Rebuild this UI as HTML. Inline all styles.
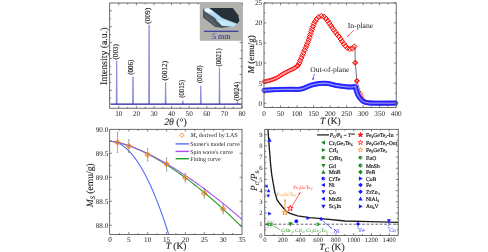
<!DOCTYPE html>
<html><head><meta charset="utf-8"><style>
html,body{margin:0;padding:0;background:#fff;}
svg{display:block;font-family:'Liberation Serif','Times New Roman',serif;text-rendering:geometricPrecision;filter:blur(0.3px);}
</style></head><body>
<svg width="488" height="252" viewBox="0 0 488 252">
<rect width="488" height="252" fill="#fff"/>
<path d="M110.53,104.2 L241.65,104.2" fill="none" stroke="#1e1e98" stroke-width="1.2"/>
<path d="M116.19,104 L116.59,61.3 L116.69,60.8 L116.79,61.3 L117.19,104" fill="#3434b8" stroke="#3434b8" stroke-width="0.7" opacity="0.62"/>
<text x="118.2" y="44" font-size="7.5" text-anchor="end" fill="#222" stroke="#222" stroke-width="0.15" transform="rotate(-90 118.2 44)" textLength="15.5" lengthAdjust="spacingAndGlyphs">(003)</text>
<path d="M132.5,104 L132.9,77.2 L133,76.7 L133.1,77.2 L133.5,104" fill="#3434b8" stroke="#3434b8" stroke-width="0.7" opacity="0.62"/>
<text x="133.4" y="59.8" font-size="7.5" text-anchor="end" fill="#222" stroke="#222" stroke-width="0.15" transform="rotate(-90 133.4 59.8)" textLength="15.0" lengthAdjust="spacingAndGlyphs">(006)</text>
<path d="M148.57,104 L148.97,25.3 L149.07,24.8 L149.17,25.3 L149.57,104" fill="#3434b8" stroke="#3434b8" stroke-width="0.7" opacity="0.62"/>
<text x="150.2" y="7.9" font-size="7.5" text-anchor="end" fill="#222" stroke="#222" stroke-width="0.15" transform="rotate(-90 150.2 7.9)" textLength="15.8" lengthAdjust="spacingAndGlyphs">(009)</text>
<path d="M165.12,104 L165.52,82.5 L165.62,82 L165.72,82.5 L166.12,104" fill="#3434b8" stroke="#3434b8" stroke-width="0.7" opacity="0.62"/>
<text x="167.1" y="60.7" font-size="7.5" text-anchor="end" fill="#222" stroke="#222" stroke-width="0.15" transform="rotate(-90 167.1 60.7)" textLength="19.8" lengthAdjust="spacingAndGlyphs">(0012)</text>
<path d="M182.36,104 L182.76,101.2 L182.86,100.7 L182.96,101.2 L183.36,104" fill="#3434b8" stroke="#3434b8" stroke-width="0.7" opacity="0.62"/>
<text x="184.3" y="79.8" font-size="7.5" text-anchor="end" fill="#222" stroke="#222" stroke-width="0.15" transform="rotate(-90 184.3 79.8)" textLength="18.0" lengthAdjust="spacingAndGlyphs">(0015)</text>
<path d="M200.32,104 L200.72,86.3 L200.82,85.8 L200.92,86.3 L201.32,104" fill="#3434b8" stroke="#3434b8" stroke-width="0.7" opacity="0.62"/>
<text x="201.7" y="65.5" font-size="7.5" text-anchor="end" fill="#222" stroke="#222" stroke-width="0.15" transform="rotate(-90 201.7 65.5)" textLength="17.6" lengthAdjust="spacingAndGlyphs">(0018)</text>
<path d="M218.97,104 L219.37,68.3 L219.47,67.8 L219.57,68.3 L219.97,104" fill="#3434b8" stroke="#3434b8" stroke-width="0.7" opacity="0.62"/>
<text x="220.8" y="48.3" font-size="7.5" text-anchor="end" fill="#222" stroke="#222" stroke-width="0.15" transform="rotate(-90 220.8 48.3)" textLength="18.2" lengthAdjust="spacingAndGlyphs">(0021)</text>
<path d="M236.92,104 L237.32,102 L237.42,101.5 L237.52,102 L237.92,104" fill="#3434b8" stroke="#3434b8" stroke-width="0.7" opacity="0.62"/>
<text x="238.8" y="82" font-size="7.5" text-anchor="end" fill="#222" stroke="#222" stroke-width="0.15" transform="rotate(-90 238.8 82)" textLength="18.7" lengthAdjust="spacingAndGlyphs">(0024)</text>
<rect x="109.7" y="3" width="132.3" height="105.2" fill="none" stroke="#3a3a3a" stroke-width="0.75"/>
<line x1="118.8" y1="108.2" x2="118.8" y2="105.8" stroke="#3a3a3a" stroke-width="0.6"/>
<line x1="118.8" y1="3" x2="118.8" y2="5.4" stroke="#3a3a3a" stroke-width="0.6"/>
<line x1="136.4" y1="108.2" x2="136.4" y2="105.8" stroke="#3a3a3a" stroke-width="0.6"/>
<line x1="136.4" y1="3" x2="136.4" y2="5.4" stroke="#3a3a3a" stroke-width="0.6"/>
<line x1="154" y1="108.2" x2="154" y2="105.8" stroke="#3a3a3a" stroke-width="0.6"/>
<line x1="154" y1="3" x2="154" y2="5.4" stroke="#3a3a3a" stroke-width="0.6"/>
<line x1="171.6" y1="108.2" x2="171.6" y2="105.8" stroke="#3a3a3a" stroke-width="0.6"/>
<line x1="171.6" y1="3" x2="171.6" y2="5.4" stroke="#3a3a3a" stroke-width="0.6"/>
<line x1="189.2" y1="108.2" x2="189.2" y2="105.8" stroke="#3a3a3a" stroke-width="0.6"/>
<line x1="189.2" y1="3" x2="189.2" y2="5.4" stroke="#3a3a3a" stroke-width="0.6"/>
<line x1="206.8" y1="108.2" x2="206.8" y2="105.8" stroke="#3a3a3a" stroke-width="0.6"/>
<line x1="206.8" y1="3" x2="206.8" y2="5.4" stroke="#3a3a3a" stroke-width="0.6"/>
<line x1="224.4" y1="108.2" x2="224.4" y2="105.8" stroke="#3a3a3a" stroke-width="0.6"/>
<line x1="224.4" y1="3" x2="224.4" y2="5.4" stroke="#3a3a3a" stroke-width="0.6"/>
<line x1="242" y1="108.2" x2="242" y2="105.8" stroke="#3a3a3a" stroke-width="0.6"/>
<line x1="242" y1="3" x2="242" y2="5.4" stroke="#3a3a3a" stroke-width="0.6"/>
<line x1="127.6" y1="108.2" x2="127.6" y2="106.8" stroke="#3a3a3a" stroke-width="0.6"/>
<line x1="127.6" y1="3" x2="127.6" y2="4.4" stroke="#3a3a3a" stroke-width="0.6"/>
<line x1="145.2" y1="108.2" x2="145.2" y2="106.8" stroke="#3a3a3a" stroke-width="0.6"/>
<line x1="145.2" y1="3" x2="145.2" y2="4.4" stroke="#3a3a3a" stroke-width="0.6"/>
<line x1="162.8" y1="108.2" x2="162.8" y2="106.8" stroke="#3a3a3a" stroke-width="0.6"/>
<line x1="162.8" y1="3" x2="162.8" y2="4.4" stroke="#3a3a3a" stroke-width="0.6"/>
<line x1="180.4" y1="108.2" x2="180.4" y2="106.8" stroke="#3a3a3a" stroke-width="0.6"/>
<line x1="180.4" y1="3" x2="180.4" y2="4.4" stroke="#3a3a3a" stroke-width="0.6"/>
<line x1="198" y1="108.2" x2="198" y2="106.8" stroke="#3a3a3a" stroke-width="0.6"/>
<line x1="198" y1="3" x2="198" y2="4.4" stroke="#3a3a3a" stroke-width="0.6"/>
<line x1="215.6" y1="108.2" x2="215.6" y2="106.8" stroke="#3a3a3a" stroke-width="0.6"/>
<line x1="215.6" y1="3" x2="215.6" y2="4.4" stroke="#3a3a3a" stroke-width="0.6"/>
<line x1="233.2" y1="108.2" x2="233.2" y2="106.8" stroke="#3a3a3a" stroke-width="0.6"/>
<line x1="233.2" y1="3" x2="233.2" y2="4.4" stroke="#3a3a3a" stroke-width="0.6"/>
<line x1="109.7" y1="98.25" x2="111.1" y2="98.25" stroke="#3a3a3a" stroke-width="0.6"/>
<line x1="242" y1="98.25" x2="240.6" y2="98.25" stroke="#3a3a3a" stroke-width="0.6"/>
<line x1="109.7" y1="82.35" x2="111.1" y2="82.35" stroke="#3a3a3a" stroke-width="0.6"/>
<line x1="242" y1="82.35" x2="240.6" y2="82.35" stroke="#3a3a3a" stroke-width="0.6"/>
<line x1="109.7" y1="66.45" x2="111.1" y2="66.45" stroke="#3a3a3a" stroke-width="0.6"/>
<line x1="242" y1="66.45" x2="240.6" y2="66.45" stroke="#3a3a3a" stroke-width="0.6"/>
<line x1="109.7" y1="50.55" x2="111.1" y2="50.55" stroke="#3a3a3a" stroke-width="0.6"/>
<line x1="242" y1="50.55" x2="240.6" y2="50.55" stroke="#3a3a3a" stroke-width="0.6"/>
<line x1="109.7" y1="34.65" x2="111.1" y2="34.65" stroke="#3a3a3a" stroke-width="0.6"/>
<line x1="242" y1="34.65" x2="240.6" y2="34.65" stroke="#3a3a3a" stroke-width="0.6"/>
<line x1="109.7" y1="18.75" x2="111.1" y2="18.75" stroke="#3a3a3a" stroke-width="0.6"/>
<line x1="242" y1="18.75" x2="240.6" y2="18.75" stroke="#3a3a3a" stroke-width="0.6"/>
<line x1="109.7" y1="90.3" x2="112.1" y2="90.3" stroke="#3a3a3a" stroke-width="0.6"/>
<line x1="242" y1="90.3" x2="239.6" y2="90.3" stroke="#3a3a3a" stroke-width="0.6"/>
<line x1="109.7" y1="74.4" x2="112.1" y2="74.4" stroke="#3a3a3a" stroke-width="0.6"/>
<line x1="242" y1="74.4" x2="239.6" y2="74.4" stroke="#3a3a3a" stroke-width="0.6"/>
<line x1="109.7" y1="58.5" x2="112.1" y2="58.5" stroke="#3a3a3a" stroke-width="0.6"/>
<line x1="242" y1="58.5" x2="239.6" y2="58.5" stroke="#3a3a3a" stroke-width="0.6"/>
<line x1="109.7" y1="42.6" x2="112.1" y2="42.6" stroke="#3a3a3a" stroke-width="0.6"/>
<line x1="242" y1="42.6" x2="239.6" y2="42.6" stroke="#3a3a3a" stroke-width="0.6"/>
<line x1="109.7" y1="26.7" x2="112.1" y2="26.7" stroke="#3a3a3a" stroke-width="0.6"/>
<line x1="242" y1="26.7" x2="239.6" y2="26.7" stroke="#3a3a3a" stroke-width="0.6"/>
<line x1="109.7" y1="10.8" x2="112.1" y2="10.8" stroke="#3a3a3a" stroke-width="0.6"/>
<line x1="242" y1="10.8" x2="239.6" y2="10.8" stroke="#3a3a3a" stroke-width="0.6"/>
<text x="118.8" y="116.4" font-size="7.2" text-anchor="middle" fill="#222">10</text>
<text x="136.4" y="116.4" font-size="7.2" text-anchor="middle" fill="#222">20</text>
<text x="154" y="116.4" font-size="7.2" text-anchor="middle" fill="#222">30</text>
<text x="171.6" y="116.4" font-size="7.2" text-anchor="middle" fill="#222">40</text>
<text x="189.2" y="116.4" font-size="7.2" text-anchor="middle" fill="#222">50</text>
<text x="206.8" y="116.4" font-size="7.2" text-anchor="middle" fill="#222">60</text>
<text x="224.4" y="116.4" font-size="7.2" text-anchor="middle" fill="#222">70</text>
<text x="242" y="116.4" font-size="7.2" text-anchor="middle" fill="#222">80</text>
<text x="175.5" y="124.5" font-size="9.8" text-anchor="middle" fill="#222" stroke="#222" stroke-width="0.12"><tspan font-style="italic">2θ</tspan> (°)</text>
<text x="106.8" y="56.3" font-size="9.8" text-anchor="middle" fill="#222" stroke="#222" stroke-width="0.12" transform="rotate(-90 106.8 56.3)">Intensity (a.u.)</text>
<g>
<rect x="199.8" y="3" width="42.2" height="37.8" fill="#b2b2ac"/>
<polygon points="205,7.9 232.8,7.9 238.3,15.2 239.4,20.8 236.7,24.7 228.9,26.9 222.2,27.5 215.6,27 203.3,17.4 203.3,9.7" fill="#253038"/>
<polygon points="203.3,11 214.4,17.6 222.2,25.8 222.2,27.5 215.6,27 203.3,17.4" fill="#4a545a"/>
<line x1="204.5" y1="15.5" x2="216.5" y2="25.5" stroke="#7d878c" stroke-width="0.6"/>
<line x1="204" y1="13" x2="214" y2="21" stroke="#6a7479" stroke-width="0.5"/>
<polygon points="204.6,8.3 209.2,8.0 222.2,18.0 237.8,24.0 236.5,25.1 233.3,26.9 222.2,26.0 214.4,17.6 204.2,11.3" fill="#b2dcf2"/>
<polygon points="204.8,8.5 208.6,8.3 213.5,12.6 207.5,12.5 204.5,10.5" fill="#eef8ff"/>
<polygon points="216,20 226,21.5 236,24.3 228,25.6 222,25.4" fill="#d2ecfa" opacity="0.8"/>
<line x1="204" y1="31.2" x2="238.5" y2="31.2" stroke="#1c1c9c" stroke-width="1.1"/>
</g>
<text x="221.3" y="39" font-size="8.0" text-anchor="middle" fill="#1c1c90">5 mm</text>
<path d="M360.51,91.15 L362.61,93.25 L360.51,95.35 L358.41,93.25 Z" fill="none" stroke="#ff1010" stroke-width="0.7"/>
<path d="M361.08,93.38 L363.18,95.48 L361.08,97.58 L358.98,95.48 Z" fill="none" stroke="#ff1010" stroke-width="0.7"/>
<path d="M361.82,95.56 L363.92,97.66 L361.82,99.76 L359.72,97.66 Z" fill="none" stroke="#ff1010" stroke-width="0.7"/>
<path d="M362.96,97.55 L365.06,99.65 L362.96,101.75 L360.86,99.65 Z" fill="none" stroke="#ff1010" stroke-width="0.7"/>
<path d="M364.51,99.23 L366.61,101.33 L364.51,103.43 L362.41,101.33 Z" fill="none" stroke="#ff1010" stroke-width="0.7"/>
<path d="M366.63,100.13 L368.73,102.23 L366.63,104.33 L364.53,102.23 Z" fill="none" stroke="#ff1010" stroke-width="0.7"/>
<path d="M368.86,100.65 L370.96,102.75 L368.86,104.85 L366.76,102.75 Z" fill="none" stroke="#ff1010" stroke-width="0.7"/>
<path d="M371.16,100.75 L373.26,102.85 L371.16,104.95 L369.06,102.85 Z" fill="none" stroke="#ff1010" stroke-width="0.7"/>
<path d="M373.46,100.8 L375.56,102.9 L373.46,105 L371.36,102.9 Z" fill="none" stroke="#ff1010" stroke-width="0.7"/>
<path d="M375.76,100.84 L377.86,102.94 L375.76,105.04 L373.66,102.94 Z" fill="none" stroke="#ff1010" stroke-width="0.7"/>
<path d="M378.06,100.86 L380.16,102.96 L378.06,105.06 L375.96,102.96 Z" fill="none" stroke="#ff1010" stroke-width="0.7"/>
<path d="M380.36,100.87 L382.46,102.97 L380.36,105.07 L378.26,102.97 Z" fill="none" stroke="#ff1010" stroke-width="0.7"/>
<path d="M382.66,100.88 L384.76,102.98 L382.66,105.08 L380.56,102.98 Z" fill="none" stroke="#ff1010" stroke-width="0.7"/>
<path d="M384.96,100.88 L387.06,102.98 L384.96,105.08 L382.86,102.98 Z" fill="none" stroke="#ff1010" stroke-width="0.7"/>
<path d="M387.26,100.88 L389.36,102.98 L387.26,105.08 L385.16,102.98 Z" fill="none" stroke="#ff1010" stroke-width="0.7"/>
<path d="M389.56,100.88 L391.66,102.98 L389.56,105.08 L387.46,102.98 Z" fill="none" stroke="#ff1010" stroke-width="0.7"/>
<path d="M391.86,100.88 L393.96,102.98 L391.86,105.08 L389.76,102.98 Z" fill="none" stroke="#ff1010" stroke-width="0.7"/>
<path d="M394.16,100.88 L396.26,102.98 L394.16,105.08 L392.06,102.98 Z" fill="none" stroke="#ff1010" stroke-width="0.7"/>
<path d="M354.99,45.61 L355.22,62.7 L356.87,80.99 L360.51,92.85" fill="none" stroke="#333" stroke-width="0.7"/>
<path d="M264,79.46 L266.25,81.71 L264,83.96 L261.75,81.71 Z" fill="none" stroke="#ff1010" stroke-width="0.8"/>
<path d="M265.09,79.27 L267.34,81.52 L265.09,83.77 L262.84,81.52 Z" fill="none" stroke="#ff1010" stroke-width="0.8"/>
<path d="M266.16,79.05 L268.41,81.3 L266.16,83.55 L263.91,81.3 Z" fill="none" stroke="#ff1010" stroke-width="0.8"/>
<path d="M267.23,78.81 L269.48,81.06 L267.23,83.31 L264.98,81.06 Z" fill="none" stroke="#ff1010" stroke-width="0.8"/>
<path d="M268.31,78.55 L270.56,80.8 L268.31,83.05 L266.06,80.8 Z" fill="none" stroke="#ff1010" stroke-width="0.8"/>
<path d="M269.37,78.27 L271.62,80.52 L269.37,82.77 L267.12,80.52 Z" fill="none" stroke="#ff1010" stroke-width="0.8"/>
<path d="M270.43,77.97 L272.68,80.22 L270.43,82.47 L268.18,80.22 Z" fill="none" stroke="#ff1010" stroke-width="0.8"/>
<path d="M271.48,77.65 L273.73,79.9 L271.48,82.15 L269.23,79.9 Z" fill="none" stroke="#ff1010" stroke-width="0.8"/>
<path d="M272.53,77.31 L274.78,79.56 L272.53,81.81 L270.28,79.56 Z" fill="none" stroke="#ff1010" stroke-width="0.8"/>
<path d="M273.57,76.94 L275.82,79.19 L273.57,81.44 L271.32,79.19 Z" fill="none" stroke="#ff1010" stroke-width="0.8"/>
<path d="M274.59,76.55 L276.84,78.8 L274.59,81.05 L272.34,78.8 Z" fill="none" stroke="#ff1010" stroke-width="0.8"/>
<path d="M275.61,76.13 L277.86,78.38 L275.61,80.63 L273.36,78.38 Z" fill="none" stroke="#ff1010" stroke-width="0.8"/>
<path d="M276.61,75.67 L278.86,77.92 L276.61,80.17 L274.36,77.92 Z" fill="none" stroke="#ff1010" stroke-width="0.8"/>
<path d="M277.57,75.13 L279.82,77.38 L277.57,79.63 L275.32,77.38 Z" fill="none" stroke="#ff1010" stroke-width="0.8"/>
<path d="M278.51,74.55 L280.76,76.8 L278.51,79.05 L276.26,76.8 Z" fill="none" stroke="#ff1010" stroke-width="0.8"/>
<path d="M279.42,73.95 L281.67,76.2 L279.42,78.45 L277.17,76.2 Z" fill="none" stroke="#ff1010" stroke-width="0.8"/>
<path d="M280.34,73.33 L282.59,75.58 L280.34,77.83 L278.09,75.58 Z" fill="none" stroke="#ff1010" stroke-width="0.8"/>
<path d="M281.25,72.73 L283.5,74.98 L281.25,77.23 L279,74.98 Z" fill="none" stroke="#ff1010" stroke-width="0.8"/>
<path d="M282.18,72.13 L284.43,74.38 L282.18,76.63 L279.93,74.38 Z" fill="none" stroke="#ff1010" stroke-width="0.8"/>
<path d="M283.13,71.58 L285.38,73.83 L283.13,76.08 L280.88,73.83 Z" fill="none" stroke="#ff1010" stroke-width="0.8"/>
<path d="M284.09,71.05 L286.34,73.3 L284.09,75.55 L281.84,73.3 Z" fill="none" stroke="#ff1010" stroke-width="0.8"/>
<path d="M285.06,70.53 L287.31,72.78 L285.06,75.03 L282.81,72.78 Z" fill="none" stroke="#ff1010" stroke-width="0.8"/>
<path d="M286.03,70.02 L288.28,72.27 L286.03,74.52 L283.78,72.27 Z" fill="none" stroke="#ff1010" stroke-width="0.8"/>
<path d="M287.01,69.51 L289.26,71.76 L287.01,74.01 L284.76,71.76 Z" fill="none" stroke="#ff1010" stroke-width="0.8"/>
<path d="M287.99,69.01 L290.24,71.26 L287.99,73.51 L285.74,71.26 Z" fill="none" stroke="#ff1010" stroke-width="0.8"/>
<path d="M288.97,68.5 L291.22,70.75 L288.97,73 L286.72,70.75 Z" fill="none" stroke="#ff1010" stroke-width="0.8"/>
<path d="M289.95,68 L292.2,70.25 L289.95,72.5 L287.7,70.25 Z" fill="none" stroke="#ff1010" stroke-width="0.8"/>
<path d="M290.93,67.53 L293.18,69.78 L290.93,72.03 L288.68,69.78 Z" fill="none" stroke="#ff1010" stroke-width="0.8"/>
<path d="M291.94,67.08 L294.19,69.33 L291.94,71.58 L289.69,69.33 Z" fill="none" stroke="#ff1010" stroke-width="0.8"/>
<path d="M292.94,66.63 L295.19,68.88 L292.94,71.13 L290.69,68.88 Z" fill="none" stroke="#ff1010" stroke-width="0.8"/>
<path d="M293.93,66.15 L296.18,68.4 L293.93,70.65 L291.68,68.4 Z" fill="none" stroke="#ff1010" stroke-width="0.8"/>
<path d="M294.89,65.61 L297.14,67.86 L294.89,70.11 L292.64,67.86 Z" fill="none" stroke="#ff1010" stroke-width="0.8"/>
<path d="M295.82,65.01 L298.07,67.26 L295.82,69.51 L293.57,67.26 Z" fill="none" stroke="#ff1010" stroke-width="0.8"/>
<path d="M296.68,64.33 L298.93,66.58 L296.68,68.83 L294.43,66.58 Z" fill="none" stroke="#ff1010" stroke-width="0.8"/>
<path d="M297.47,63.56 L299.72,65.81 L297.47,68.06 L295.22,65.81 Z" fill="none" stroke="#ff1010" stroke-width="0.8"/>
<path d="M264,81.71 L264.22,81.67 L264.45,81.64 L264.67,81.59 L264.9,81.55 L265.12,81.51 L265.34,81.47 L265.57,81.42 L265.79,81.38 L266.02,81.33 L266.24,81.28 L266.46,81.23 L266.69,81.18 L266.91,81.13 L267.14,81.08 L267.36,81.03 L267.58,80.97 L267.81,80.92 L268.03,80.86 L268.26,80.81 L268.48,80.75 L268.7,80.69 L268.93,80.63 L269.15,80.58 L269.38,80.52 L269.6,80.45 L269.82,80.39 L270.05,80.33 L270.27,80.26 L270.5,80.2 L270.72,80.13 L270.94,80.07 L271.17,80 L271.39,79.93 L271.62,79.86 L271.84,79.79 L272.07,79.71 L272.29,79.64 L272.51,79.56 L272.74,79.49 L272.96,79.41 L273.19,79.33 L273.41,79.25 L273.63,79.17 L273.86,79.08 L274.08,79 L274.31,78.91 L274.53,78.83 L274.75,78.74 L274.98,78.65 L275.2,78.55 L275.43,78.46 L275.65,78.36 L275.87,78.27 L276.1,78.17 L276.32,78.06 L276.55,77.95 L276.77,77.83 L276.99,77.71 L277.22,77.59 L277.44,77.46 L277.67,77.33 L277.89,77.19 L278.11,77.05 L278.34,76.91 L278.56,76.77 L278.79,76.62 L279.01,76.47 L279.23,76.33 L279.46,76.18 L279.68,76.03 L279.91,75.87 L280.13,75.72 L280.35,75.57 L280.58,75.42 L280.8,75.27 L281.03,75.12 L281.25,74.97 L281.47,74.83 L281.7,74.68 L281.92,74.54 L282.15,74.4 L282.37,74.27 L282.59,74.13 L282.82,74.01 L283.04,73.88 L283.27,73.75 L283.49,73.63 L283.71,73.5 L283.94,73.38 L284.16,73.26 L284.39,73.14 L284.61,73.02 L284.83,72.9 L285.06,72.78 L285.28,72.66 L285.51,72.54 L285.73,72.42 L285.95,72.31 L286.18,72.19 L286.4,72.07 L286.63,71.96 L286.85,71.84 L287.08,71.72 L287.3,71.61 L287.52,71.49 L287.75,71.38 L287.97,71.26 L288.2,71.15 L288.42,71.03 L288.64,70.92 L288.87,70.81 L289.09,70.69 L289.32,70.57 L289.54,70.46 L289.76,70.34 L289.99,70.23 L290.21,70.12 L290.44,70.01 L290.66,69.9 L290.88,69.8 L291.11,69.7 L291.33,69.6 L291.56,69.5 L291.78,69.4 L292,69.3 L292.23,69.2 L292.45,69.1 L292.68,69 L292.9,68.9 L293.12,68.79 L293.35,68.69 L293.57,68.58 L293.8,68.47 L294.02,68.35 L294.24,68.23 L294.47,68.11 L294.69,67.98 L294.92,67.85 L295.14,67.71 L295.36,67.57 L295.59,67.42 L295.81,67.26 L296.04,67.1 L296.26,66.93 L296.48,66.75 L296.71,66.56 L296.93,66.35 L297.16,66.14 L297.38,65.91" fill="none" stroke="#ffffff" stroke-width="1.2" opacity="0.5"/>
<path d="M297.71,62.95 L300.31,65.55 L297.71,68.15 L295.11,65.55 Z" fill="none" stroke="#ff0000" stroke-width="1.0"/>
<path d="M299.19,60.58 L301.79,63.18 L299.19,65.78 L296.59,63.18 Z" fill="none" stroke="#ff0000" stroke-width="1.0"/>
<path d="M300.23,57.98 L302.83,60.58 L300.23,63.18 L297.63,60.58 Z" fill="none" stroke="#ff0000" stroke-width="1.0"/>
<path d="M301.33,55.38 L303.93,57.98 L301.33,60.58 L298.73,57.98 Z" fill="none" stroke="#ff0000" stroke-width="1.0"/>
<path d="M302.42,52.81 L305.02,55.41 L302.42,58.01 L299.82,55.41 Z" fill="none" stroke="#ff0000" stroke-width="1.0"/>
<path d="M303.51,50.22 L306.11,52.82 L303.51,55.42 L300.91,52.82 Z" fill="none" stroke="#ff0000" stroke-width="1.0"/>
<path d="M304.59,47.63 L307.19,50.23 L304.59,52.83 L301.99,50.23 Z" fill="none" stroke="#ff0000" stroke-width="1.0"/>
<path d="M305.65,45.06 L308.25,47.66 L305.65,50.26 L303.05,47.66 Z" fill="none" stroke="#ff0000" stroke-width="1.0"/>
<path d="M306.73,42.47 L309.33,45.07 L306.73,47.67 L304.13,45.07 Z" fill="none" stroke="#ff0000" stroke-width="1.0"/>
<path d="M307.78,39.87 L310.38,42.47 L307.78,45.07 L305.18,42.47 Z" fill="none" stroke="#ff0000" stroke-width="1.0"/>
<path d="M308.72,37.23 L311.32,39.83 L308.72,42.43 L306.12,39.83 Z" fill="none" stroke="#ff0000" stroke-width="1.0"/>
<path d="M309.6,34.59 L312.2,37.19 L309.6,39.79 L307,37.19 Z" fill="none" stroke="#ff0000" stroke-width="1.0"/>
<path d="M310.46,31.89 L313.06,34.49 L310.46,37.09 L307.86,34.49 Z" fill="none" stroke="#ff0000" stroke-width="1.0"/>
<path d="M311.23,29.23 L313.83,31.83 L311.23,34.43 L308.63,31.83 Z" fill="none" stroke="#ff0000" stroke-width="1.0"/>
<path d="M312,26.55 L314.6,29.15 L312,31.75 L309.4,29.15 Z" fill="none" stroke="#ff0000" stroke-width="1.0"/>
<path d="M312.92,23.89 L315.52,26.49 L312.92,29.09 L310.32,26.49 Z" fill="none" stroke="#ff0000" stroke-width="1.0"/>
<path d="M313.95,21.27 L316.55,23.87 L313.95,26.47 L311.35,23.87 Z" fill="none" stroke="#ff0000" stroke-width="1.0"/>
<path d="M315.18,18.78 L317.78,21.38 L315.18,23.98 L312.58,21.38 Z" fill="none" stroke="#ff0000" stroke-width="1.0"/>
<path d="M316.7,16.42 L319.3,19.02 L316.7,21.62 L314.1,19.02 Z" fill="none" stroke="#ff0000" stroke-width="1.0"/>
<path d="M318.68,14.46 L321.28,17.06 L318.68,19.66 L316.08,17.06 Z" fill="none" stroke="#ff0000" stroke-width="1.0"/>
<path d="M321.23,13.38 L323.83,15.98 L321.23,18.58 L318.63,15.98 Z" fill="none" stroke="#ff0000" stroke-width="1.0"/>
<path d="M323.82,14.05 L326.42,16.65 L323.82,19.25 L321.22,16.65 Z" fill="none" stroke="#ff0000" stroke-width="1.0"/>
<path d="M325.88,15.94 L328.48,18.54 L325.88,21.14 L323.28,18.54 Z" fill="none" stroke="#ff0000" stroke-width="1.0"/>
<path d="M327.59,18.15 L330.19,20.75 L327.59,23.35 L324.99,20.75 Z" fill="none" stroke="#ff0000" stroke-width="1.0"/>
<path d="M329.19,20.47 L331.79,23.07 L329.19,25.67 L326.59,23.07 Z" fill="none" stroke="#ff0000" stroke-width="1.0"/>
<path d="M330.7,22.82 L333.3,25.42 L330.7,28.02 L328.1,25.42 Z" fill="none" stroke="#ff0000" stroke-width="1.0"/>
<path d="M332.24,25.14 L334.84,27.74 L332.24,30.34 L329.64,27.74 Z" fill="none" stroke="#ff0000" stroke-width="1.0"/>
<path d="M333.83,27.44 L336.43,30.04 L333.83,32.64 L331.23,30.04 Z" fill="none" stroke="#ff0000" stroke-width="1.0"/>
<path d="M335.52,29.69 L338.12,32.29 L335.52,34.89 L332.92,32.29 Z" fill="none" stroke="#ff0000" stroke-width="1.0"/>
<path d="M337.24,31.9 L339.84,34.5 L337.24,37.1 L334.64,34.5 Z" fill="none" stroke="#ff0000" stroke-width="1.0"/>
<path d="M338.97,34.08 L341.57,36.68 L338.97,39.28 L336.37,36.68 Z" fill="none" stroke="#ff0000" stroke-width="1.0"/>
<path d="M340.59,36.39 L343.19,38.99 L340.59,41.59 L337.99,38.99 Z" fill="none" stroke="#ff0000" stroke-width="1.0"/>
<path d="M342.07,38.77 L344.67,41.37 L342.07,43.97 L339.47,41.37 Z" fill="none" stroke="#ff0000" stroke-width="1.0"/>
<path d="M343.63,41.08 L346.23,43.68 L343.63,46.28 L341.03,43.68 Z" fill="none" stroke="#ff0000" stroke-width="1.0"/>
<path d="M345.32,43.3 L347.92,45.9 L345.32,48.5 L342.72,45.9 Z" fill="none" stroke="#ff0000" stroke-width="1.0"/>
<path d="M347.32,45.26 L349.92,47.86 L347.32,50.46 L344.72,47.86 Z" fill="none" stroke="#ff0000" stroke-width="1.0"/>
<path d="M349.87,46.35 L352.47,48.95 L349.87,51.55 L347.27,48.95 Z" fill="none" stroke="#ff0000" stroke-width="1.0"/>
<path d="M352.49,45.9 L355.09,48.5 L352.49,51.1 L349.89,48.5 Z" fill="none" stroke="#ff0000" stroke-width="1.0"/>
<path d="M354.43,43.88 L357.03,46.48 L354.43,49.08 L351.83,46.48 Z" fill="none" stroke="#ff0000" stroke-width="1.0"/>
<path d="M355.22,60.5 L357.42,62.7 L355.22,64.9 L353.02,62.7 Z" fill="none" stroke="#ff1010" stroke-width="1.2"/>
<path d="M356.87,78.79 L359.07,80.99 L356.87,83.19 L354.67,80.99 Z" fill="none" stroke="#ff1010" stroke-width="1.2"/>
<circle cx="264" cy="90.32" r="2.1" fill="none" stroke="#1a1aff" stroke-width="0.8"/>
<circle cx="265.12" cy="90.23" r="2.1" fill="none" stroke="#1a1aff" stroke-width="0.8"/>
<circle cx="266.21" cy="90.16" r="2.1" fill="none" stroke="#1a1aff" stroke-width="0.8"/>
<circle cx="267.3" cy="90.08" r="2.1" fill="none" stroke="#1a1aff" stroke-width="0.8"/>
<circle cx="268.39" cy="90.01" r="2.1" fill="none" stroke="#1a1aff" stroke-width="0.8"/>
<circle cx="269.51" cy="89.94" r="2.1" fill="none" stroke="#1a1aff" stroke-width="0.8"/>
<circle cx="270.6" cy="89.88" r="2.1" fill="none" stroke="#1a1aff" stroke-width="0.8"/>
<circle cx="271.69" cy="89.82" r="2.1" fill="none" stroke="#1a1aff" stroke-width="0.8"/>
<circle cx="272.78" cy="89.76" r="2.1" fill="none" stroke="#1a1aff" stroke-width="0.8"/>
<circle cx="273.91" cy="89.71" r="2.1" fill="none" stroke="#1a1aff" stroke-width="0.8"/>
<circle cx="274.99" cy="89.66" r="2.1" fill="none" stroke="#1a1aff" stroke-width="0.8"/>
<circle cx="276.08" cy="89.63" r="2.1" fill="none" stroke="#1a1aff" stroke-width="0.8"/>
<circle cx="277.21" cy="89.59" r="2.1" fill="none" stroke="#1a1aff" stroke-width="0.8"/>
<circle cx="278.3" cy="89.55" r="2.1" fill="none" stroke="#1a1aff" stroke-width="0.8"/>
<circle cx="279.39" cy="89.52" r="2.1" fill="none" stroke="#1a1aff" stroke-width="0.8"/>
<circle cx="280.51" cy="89.48" r="2.1" fill="none" stroke="#1a1aff" stroke-width="0.8"/>
<circle cx="281.6" cy="89.45" r="2.1" fill="none" stroke="#1a1aff" stroke-width="0.8"/>
<circle cx="282.69" cy="89.42" r="2.1" fill="none" stroke="#1a1aff" stroke-width="0.8"/>
<circle cx="283.78" cy="89.39" r="2.1" fill="none" stroke="#1a1aff" stroke-width="0.8"/>
<circle cx="284.9" cy="89.37" r="2.1" fill="none" stroke="#1a1aff" stroke-width="0.8"/>
<circle cx="285.99" cy="89.35" r="2.1" fill="none" stroke="#1a1aff" stroke-width="0.8"/>
<circle cx="287.08" cy="89.33" r="2.1" fill="none" stroke="#1a1aff" stroke-width="0.8"/>
<circle cx="288.2" cy="89.32" r="2.1" fill="none" stroke="#1a1aff" stroke-width="0.8"/>
<circle cx="289.29" cy="89.31" r="2.1" fill="none" stroke="#1a1aff" stroke-width="0.8"/>
<circle cx="290.38" cy="89.31" r="2.1" fill="none" stroke="#1a1aff" stroke-width="0.8"/>
<circle cx="291.5" cy="89.32" r="2.1" fill="none" stroke="#1a1aff" stroke-width="0.8"/>
<circle cx="292.59" cy="89.35" r="2.1" fill="none" stroke="#1a1aff" stroke-width="0.8"/>
<circle cx="293.68" cy="89.37" r="2.1" fill="none" stroke="#1a1aff" stroke-width="0.8"/>
<circle cx="294.8" cy="89.4" r="2.1" fill="none" stroke="#1a1aff" stroke-width="0.8"/>
<circle cx="295.89" cy="89.42" r="2.1" fill="none" stroke="#1a1aff" stroke-width="0.8"/>
<circle cx="296.98" cy="89.43" r="2.1" fill="none" stroke="#1a1aff" stroke-width="0.8"/>
<circle cx="298.07" cy="89.4" r="2.1" fill="none" stroke="#1a1aff" stroke-width="0.8"/>
<circle cx="299.2" cy="89.29" r="2.1" fill="none" stroke="#1a1aff" stroke-width="0.8"/>
<circle cx="300.29" cy="89.13" r="2.1" fill="none" stroke="#1a1aff" stroke-width="0.8"/>
<circle cx="301.34" cy="88.95" r="2.1" fill="none" stroke="#1a1aff" stroke-width="0.8"/>
<circle cx="302.43" cy="88.73" r="2.1" fill="none" stroke="#1a1aff" stroke-width="0.8"/>
<circle cx="303.49" cy="88.39" r="2.1" fill="none" stroke="#1a1aff" stroke-width="0.8"/>
<circle cx="304.51" cy="87.96" r="2.1" fill="none" stroke="#1a1aff" stroke-width="0.8"/>
<circle cx="305.5" cy="87.5" r="2.1" fill="none" stroke="#1a1aff" stroke-width="0.8"/>
<circle cx="306.49" cy="87.08" r="2.1" fill="none" stroke="#1a1aff" stroke-width="0.8"/>
<circle cx="307.52" cy="86.66" r="2.1" fill="none" stroke="#1a1aff" stroke-width="0.8"/>
<circle cx="308.54" cy="86.23" r="2.1" fill="none" stroke="#1a1aff" stroke-width="0.8"/>
<circle cx="309.56" cy="85.81" r="2.1" fill="none" stroke="#1a1aff" stroke-width="0.8"/>
<circle cx="310.59" cy="85.43" r="2.1" fill="none" stroke="#1a1aff" stroke-width="0.8"/>
<circle cx="311.64" cy="85.1" r="2.1" fill="none" stroke="#1a1aff" stroke-width="0.8"/>
<circle cx="312.7" cy="84.8" r="2.1" fill="none" stroke="#1a1aff" stroke-width="0.8"/>
<circle cx="313.76" cy="84.52" r="2.1" fill="none" stroke="#1a1aff" stroke-width="0.8"/>
<circle cx="314.81" cy="84.27" r="2.1" fill="none" stroke="#1a1aff" stroke-width="0.8"/>
<circle cx="315.9" cy="84.06" r="2.1" fill="none" stroke="#1a1aff" stroke-width="0.8"/>
<circle cx="316.99" cy="83.88" r="2.1" fill="none" stroke="#1a1aff" stroke-width="0.8"/>
<circle cx="318.08" cy="83.7" r="2.1" fill="none" stroke="#1a1aff" stroke-width="0.8"/>
<circle cx="319.17" cy="83.55" r="2.1" fill="none" stroke="#1a1aff" stroke-width="0.8"/>
<circle cx="320.26" cy="83.44" r="2.1" fill="none" stroke="#1a1aff" stroke-width="0.8"/>
<circle cx="321.35" cy="83.39" r="2.1" fill="none" stroke="#1a1aff" stroke-width="0.8"/>
<circle cx="322.47" cy="83.36" r="2.1" fill="none" stroke="#1a1aff" stroke-width="0.8"/>
<circle cx="323.56" cy="83.34" r="2.1" fill="none" stroke="#1a1aff" stroke-width="0.8"/>
<circle cx="324.65" cy="83.33" r="2.1" fill="none" stroke="#1a1aff" stroke-width="0.8"/>
<circle cx="325.77" cy="83.32" r="2.1" fill="none" stroke="#1a1aff" stroke-width="0.8"/>
<circle cx="326.86" cy="83.38" r="2.1" fill="none" stroke="#1a1aff" stroke-width="0.8"/>
<circle cx="327.95" cy="83.54" r="2.1" fill="none" stroke="#1a1aff" stroke-width="0.8"/>
<circle cx="329.04" cy="83.73" r="2.1" fill="none" stroke="#1a1aff" stroke-width="0.8"/>
<circle cx="330.1" cy="83.93" r="2.1" fill="none" stroke="#1a1aff" stroke-width="0.8"/>
<circle cx="331.19" cy="84.2" r="2.1" fill="none" stroke="#1a1aff" stroke-width="0.8"/>
<circle cx="332.25" cy="84.49" r="2.1" fill="none" stroke="#1a1aff" stroke-width="0.8"/>
<circle cx="333.3" cy="84.79" r="2.1" fill="none" stroke="#1a1aff" stroke-width="0.8"/>
<circle cx="334.36" cy="85.06" r="2.1" fill="none" stroke="#1a1aff" stroke-width="0.8"/>
<circle cx="335.45" cy="85.28" r="2.1" fill="none" stroke="#1a1aff" stroke-width="0.8"/>
<circle cx="336.54" cy="85.48" r="2.1" fill="none" stroke="#1a1aff" stroke-width="0.8"/>
<circle cx="337.59" cy="85.65" r="2.1" fill="none" stroke="#1a1aff" stroke-width="0.8"/>
<circle cx="338.68" cy="85.81" r="2.1" fill="none" stroke="#1a1aff" stroke-width="0.8"/>
<circle cx="339.77" cy="85.97" r="2.1" fill="none" stroke="#1a1aff" stroke-width="0.8"/>
<circle cx="340.86" cy="86.11" r="2.1" fill="none" stroke="#1a1aff" stroke-width="0.8"/>
<circle cx="341.95" cy="86.25" r="2.1" fill="none" stroke="#1a1aff" stroke-width="0.8"/>
<circle cx="343.08" cy="86.39" r="2.1" fill="none" stroke="#1a1aff" stroke-width="0.8"/>
<circle cx="344.17" cy="86.54" r="2.1" fill="none" stroke="#1a1aff" stroke-width="0.8"/>
<circle cx="345.25" cy="86.68" r="2.1" fill="none" stroke="#1a1aff" stroke-width="0.8"/>
<circle cx="346.34" cy="86.82" r="2.1" fill="none" stroke="#1a1aff" stroke-width="0.8"/>
<circle cx="347.43" cy="86.93" r="2.1" fill="none" stroke="#1a1aff" stroke-width="0.8"/>
<circle cx="348.52" cy="87" r="2.1" fill="none" stroke="#1a1aff" stroke-width="0.8"/>
<circle cx="349.61" cy="87.02" r="2.1" fill="none" stroke="#1a1aff" stroke-width="0.8"/>
<circle cx="350.74" cy="87.01" r="2.1" fill="none" stroke="#1a1aff" stroke-width="0.8"/>
<circle cx="351.83" cy="86.99" r="2.1" fill="none" stroke="#1a1aff" stroke-width="0.8"/>
<circle cx="352.91" cy="86.95" r="2.1" fill="none" stroke="#1a1aff" stroke-width="0.8"/>
<circle cx="354" cy="86.88" r="2.1" fill="none" stroke="#1a1aff" stroke-width="0.8"/>
<circle cx="354.93" cy="86.25" r="2.1" fill="none" stroke="#1a1aff" stroke-width="0.8"/>
<circle cx="355.49" cy="87.04" r="2.1" fill="none" stroke="#1a1aff" stroke-width="0.8"/>
<circle cx="355.75" cy="88.16" r="2.1" fill="none" stroke="#1a1aff" stroke-width="0.8"/>
<circle cx="355.99" cy="89.24" r="2.1" fill="none" stroke="#1a1aff" stroke-width="0.8"/>
<circle cx="356.25" cy="90.32" r="2.1" fill="none" stroke="#1a1aff" stroke-width="0.8"/>
<circle cx="356.58" cy="91.33" r="2.1" fill="none" stroke="#1a1aff" stroke-width="0.8"/>
<circle cx="356.94" cy="92.4" r="2.1" fill="none" stroke="#1a1aff" stroke-width="0.8"/>
<circle cx="357.31" cy="93.4" r="2.1" fill="none" stroke="#1a1aff" stroke-width="0.8"/>
<circle cx="357.7" cy="94.39" r="2.1" fill="none" stroke="#1a1aff" stroke-width="0.8"/>
<circle cx="358.2" cy="95.42" r="2.1" fill="none" stroke="#1a1aff" stroke-width="0.8"/>
<circle cx="358.73" cy="96.36" r="2.1" fill="none" stroke="#1a1aff" stroke-width="0.8"/>
<circle cx="359.32" cy="97.28" r="2.1" fill="none" stroke="#1a1aff" stroke-width="0.8"/>
<circle cx="359.95" cy="98.14" r="2.1" fill="none" stroke="#1a1aff" stroke-width="0.8"/>
<circle cx="360.67" cy="98.98" r="2.1" fill="none" stroke="#1a1aff" stroke-width="0.8"/>
<circle cx="361.43" cy="99.81" r="2.1" fill="none" stroke="#1a1aff" stroke-width="0.8"/>
<circle cx="362.19" cy="100.57" r="2.1" fill="none" stroke="#1a1aff" stroke-width="0.8"/>
<circle cx="363.05" cy="101.28" r="2.1" fill="none" stroke="#1a1aff" stroke-width="0.8"/>
<circle cx="364.01" cy="101.81" r="2.1" fill="none" stroke="#1a1aff" stroke-width="0.8"/>
<circle cx="365.03" cy="102.16" r="2.1" fill="none" stroke="#1a1aff" stroke-width="0.8"/>
<circle cx="366.09" cy="102.46" r="2.1" fill="none" stroke="#1a1aff" stroke-width="0.8"/>
<circle cx="367.18" cy="102.69" r="2.1" fill="none" stroke="#1a1aff" stroke-width="0.8"/>
<circle cx="368.27" cy="102.85" r="2.1" fill="none" stroke="#1a1aff" stroke-width="0.8"/>
<circle cx="369.36" cy="102.94" r="2.1" fill="none" stroke="#1a1aff" stroke-width="0.8"/>
<circle cx="370.45" cy="103.02" r="2.1" fill="none" stroke="#1a1aff" stroke-width="0.8"/>
<circle cx="371.54" cy="103.08" r="2.1" fill="none" stroke="#1a1aff" stroke-width="0.8"/>
<circle cx="372.66" cy="103.13" r="2.1" fill="none" stroke="#1a1aff" stroke-width="0.8"/>
<circle cx="373.75" cy="103.16" r="2.1" fill="none" stroke="#1a1aff" stroke-width="0.8"/>
<circle cx="374.84" cy="103.18" r="2.1" fill="none" stroke="#1a1aff" stroke-width="0.8"/>
<circle cx="375.96" cy="103.18" r="2.1" fill="none" stroke="#1a1aff" stroke-width="0.8"/>
<circle cx="377.05" cy="103.18" r="2.1" fill="none" stroke="#1a1aff" stroke-width="0.8"/>
<circle cx="378.14" cy="103.18" r="2.1" fill="none" stroke="#1a1aff" stroke-width="0.8"/>
<circle cx="379.26" cy="103.18" r="2.1" fill="none" stroke="#1a1aff" stroke-width="0.8"/>
<circle cx="380.35" cy="103.18" r="2.1" fill="none" stroke="#1a1aff" stroke-width="0.8"/>
<circle cx="381.44" cy="103.18" r="2.1" fill="none" stroke="#1a1aff" stroke-width="0.8"/>
<circle cx="382.53" cy="103.18" r="2.1" fill="none" stroke="#1a1aff" stroke-width="0.8"/>
<circle cx="383.65" cy="103.17" r="2.1" fill="none" stroke="#1a1aff" stroke-width="0.8"/>
<circle cx="384.74" cy="103.17" r="2.1" fill="none" stroke="#1a1aff" stroke-width="0.8"/>
<circle cx="385.83" cy="103.17" r="2.1" fill="none" stroke="#1a1aff" stroke-width="0.8"/>
<circle cx="386.96" cy="103.17" r="2.1" fill="none" stroke="#1a1aff" stroke-width="0.8"/>
<circle cx="388.04" cy="103.16" r="2.1" fill="none" stroke="#1a1aff" stroke-width="0.8"/>
<circle cx="389.13" cy="103.16" r="2.1" fill="none" stroke="#1a1aff" stroke-width="0.8"/>
<circle cx="390.26" cy="103.15" r="2.1" fill="none" stroke="#1a1aff" stroke-width="0.8"/>
<circle cx="391.35" cy="103.14" r="2.1" fill="none" stroke="#1a1aff" stroke-width="0.8"/>
<circle cx="392.44" cy="103.13" r="2.1" fill="none" stroke="#1a1aff" stroke-width="0.8"/>
<circle cx="393.56" cy="103.13" r="2.1" fill="none" stroke="#1a1aff" stroke-width="0.8"/>
<circle cx="394.65" cy="103.12" r="2.1" fill="none" stroke="#1a1aff" stroke-width="0.8"/>
<circle cx="395.74" cy="103.1" r="2.1" fill="none" stroke="#1a1aff" stroke-width="0.8"/>
<path d="M264,90.32 L264.26,90.3 L264.53,90.28 L264.79,90.26 L265.06,90.24 L265.32,90.22 L265.59,90.2 L265.85,90.18 L266.12,90.16 L266.38,90.15 L266.65,90.13 L266.91,90.11 L267.18,90.09 L267.44,90.07 L267.7,90.06 L267.97,90.04 L268.23,90.02 L268.5,90 L268.76,89.99 L269.03,89.97 L269.29,89.95 L269.56,89.94 L269.82,89.92 L270.09,89.91 L270.35,89.89 L270.61,89.87 L270.88,89.86 L271.14,89.84 L271.41,89.83 L271.67,89.82 L271.94,89.8 L272.2,89.79 L272.47,89.78 L272.73,89.76 L273,89.75 L273.26,89.74 L273.53,89.72 L273.79,89.71 L274.05,89.7 L274.32,89.69 L274.58,89.68 L274.85,89.67 L275.11,89.66 L275.38,89.65 L275.64,89.64 L275.91,89.63 L276.17,89.62 L276.44,89.61 L276.7,89.61 L276.97,89.6 L277.23,89.59 L277.49,89.58 L277.76,89.57 L278.02,89.56 L278.29,89.55 L278.55,89.54 L278.82,89.54 L279.08,89.53 L279.35,89.52 L279.61,89.51 L279.88,89.5 L280.14,89.49 L280.41,89.49 L280.67,89.48 L280.93,89.47 L281.2,89.46 L281.46,89.45 L281.73,89.45 L281.99,89.44 L282.26,89.43 L282.52,89.43 L282.79,89.42 L283.05,89.41 L283.32,89.4 L283.58,89.4 L283.84,89.39 L284.11,89.39 L284.37,89.38 L284.64,89.37 L284.9,89.37 L285.17,89.36 L285.43,89.36 L285.7,89.35 L285.96,89.35 L286.23,89.34 L286.49,89.34 L286.76,89.34 L287.02,89.33 L287.28,89.33 L287.55,89.33 L287.81,89.32 L288.08,89.32 L288.34,89.32 L288.61,89.32 L288.87,89.31 L289.14,89.31 L289.4,89.31 L289.67,89.31 L289.93,89.31 L290.2,89.31 L290.46,89.31 L290.72,89.31 L290.99,89.32 L291.25,89.32 L291.52,89.32 L291.78,89.33 L292.05,89.33 L292.31,89.34 L292.58,89.35 L292.84,89.35 L293.11,89.36 L293.37,89.37 L293.64,89.37 L293.9,89.38 L294.16,89.39 L294.43,89.39 L294.69,89.4 L294.96,89.4 L295.22,89.41 L295.49,89.42 L295.75,89.42 L296.02,89.42 L296.28,89.43 L296.55,89.43 L296.81,89.43 L297.07,89.43 L297.34,89.43 L297.6,89.42 L297.87,89.41 L298.13,89.39 L298.4,89.37 L298.66,89.35 L298.93,89.32 L299.19,89.29 L299.46,89.25 L299.72,89.22 L299.99,89.18 L300.25,89.14 L300.51,89.1 L300.78,89.05 L301.04,89 L301.31,88.96 L301.57,88.91 L301.84,88.86 L302.1,88.81 L302.37,88.75 L302.63,88.68 L302.9,88.6 L303.16,88.51 L303.43,88.41 L303.69,88.31 L303.95,88.2 L304.22,88.09 L304.48,87.97 L304.75,87.85 L305.01,87.73 L305.28,87.61 L305.54,87.49 L305.81,87.37 L306.07,87.25 L306.34,87.14 L306.6,87.03 L306.86,86.93 L307.13,86.82 L307.39,86.71 L307.66,86.6 L307.92,86.49 L308.19,86.38 L308.45,86.27 L308.72,86.16 L308.98,86.05 L309.25,85.94 L309.51,85.83 L309.78,85.73 L310.04,85.63 L310.3,85.53 L310.57,85.44 L310.83,85.35 L311.1,85.26 L311.36,85.18 L311.63,85.1 L311.89,85.02 L312.16,84.95 L312.42,84.87 L312.69,84.8 L312.95,84.73 L313.22,84.66 L313.48,84.59 L313.74,84.52 L314.01,84.46 L314.27,84.39 L314.54,84.33 L314.8,84.28 L315.07,84.22 L315.33,84.17 L315.6,84.11 L315.86,84.07 L316.13,84.02 L316.39,83.98 L316.66,83.93 L316.92,83.89 L317.18,83.84 L317.45,83.8 L317.71,83.76 L317.98,83.72 L318.24,83.68 L318.51,83.64 L318.77,83.6 L319.04,83.56 L319.3,83.53 L319.57,83.5 L319.83,83.48 L320.09,83.45 L320.36,83.43 L320.62,83.42 L320.89,83.41 L321.15,83.4 L321.42,83.39 L321.68,83.38 L321.95,83.38 L322.21,83.37 L322.48,83.36 L322.74,83.36 L323.01,83.35 L323.27,83.35 L323.53,83.34 L323.8,83.34 L324.06,83.33 L324.33,83.33 L324.59,83.33 L324.86,83.32 L325.12,83.32 L325.39,83.32 L325.65,83.32 L325.92,83.32 L326.18,83.33 L326.45,83.34 L326.71,83.37 L326.97,83.4 L327.24,83.43 L327.5,83.47 L327.77,83.51 L328.03,83.55 L328.3,83.6 L328.56,83.65 L328.83,83.69 L329.09,83.74 L329.36,83.79 L329.62,83.84 L329.89,83.89 L330.15,83.94 L330.41,84 L330.68,84.07 L330.94,84.13 L331.21,84.2 L331.47,84.27 L331.74,84.35 L332,84.42 L332.27,84.5 L332.53,84.57 L332.8,84.65 L333.06,84.72 L333.32,84.8 L333.59,84.87 L333.85,84.94 L334.12,85 L334.38,85.07 L334.65,85.13 L334.91,85.18 L335.18,85.23 L335.44,85.28 L335.71,85.33 L335.97,85.38 L336.24,85.42 L336.5,85.47 L336.76,85.51 L337.03,85.56 L337.29,85.6 L337.56,85.64 L337.82,85.68 L338.09,85.72 L338.35,85.76 L338.62,85.8 L338.88,85.84 L339.15,85.88 L339.41,85.92 L339.68,85.95 L339.94,85.99 L340.2,86.03 L340.47,86.06 L340.73,86.1 L341,86.13 L341.26,86.16 L341.53,86.2 L341.79,86.23 L342.06,86.26 L342.32,86.29 L342.59,86.33 L342.85,86.36 L343.12,86.4 L343.38,86.43 L343.64,86.47 L343.91,86.5 L344.17,86.54 L344.44,86.58 L344.7,86.61 L344.97,86.65 L345.23,86.68 L345.5,86.72 L345.76,86.75 L346.03,86.78 L346.29,86.81 L346.55,86.84 L346.82,86.87 L347.08,86.9 L347.35,86.92 L347.61,86.94 L347.88,86.96 L348.14,86.98 L348.41,86.99 L348.67,87 L348.94,87.01 L349.2,87.02 L349.47,87.02 L349.73,87.02 L349.99,87.02 L350.26,87.02 L350.52,87.01 L350.79,87.01 L351.05,87.01 L351.32,87 L351.58,87 L351.85,86.99 L352.11,86.98 L352.38,86.97 L352.64,86.96 L352.91,86.95 L353.17,86.94 L353.43,86.93 L353.7,86.91 L353.96,86.89 L354.23,86.76 L354.49,86.55 L354.76,86.34 L355.02,86.22 L355.29,86.44 L355.55,87.28 L355.82,88.45 L356.08,89.66 L356.34,90.63 L356.61,91.42 L356.87,92.2 L357.14,92.95 L357.4,93.65 L357.67,94.31 L357.93,94.9 L358.2,95.42 L358.46,95.9 L358.73,96.36 L358.99,96.79 L359.26,97.19 L359.52,97.57 L359.78,97.93 L360.05,98.26 L360.31,98.58 L360.58,98.88 L360.84,99.17 L361.11,99.46 L361.37,99.74 L361.64,100.02 L361.9,100.29 L362.17,100.54 L362.43,100.78 L362.7,101.01 L362.96,101.22 L363.22,101.4 L363.49,101.57 L363.75,101.7 L364.02,101.82 L364.28,101.91 L364.55,102 L364.81,102.09 L365.08,102.18 L365.34,102.26 L365.61,102.33 L365.87,102.4 L366.14,102.47 L366.4,102.53 L366.66,102.59 L366.93,102.65 L367.19,102.7 L367.46,102.74 L367.72,102.78 L367.99,102.82 L368.25,102.85 L368.52,102.88 L368.78,102.9 L369.05,102.92 L369.31,102.94 L369.57,102.96 L369.84,102.98 L370.1,102.99 L370.37,103.01 L370.63,103.03 L370.9,103.05 L371.16,103.06 L371.43,103.07 L371.69,103.09 L371.96,103.1 L372.22,103.11 L372.49,103.12 L372.75,103.14 L373.01,103.14 L373.28,103.15 L373.54,103.16 L373.81,103.17 L374.07,103.17 L374.34,103.17 L374.6,103.18 L374.87,103.18 L375.13,103.18 L375.4,103.18 L375.66,103.18 L375.93,103.18 L376.19,103.18 L376.45,103.18 L376.72,103.18 L376.98,103.18 L377.25,103.18 L377.51,103.18 L377.78,103.18 L378.04,103.18 L378.31,103.18 L378.57,103.18 L378.84,103.18 L379.1,103.18 L379.37,103.18 L379.63,103.18 L379.89,103.18 L380.16,103.18 L380.42,103.18 L380.69,103.18 L380.95,103.18 L381.22,103.18 L381.48,103.18 L381.75,103.18 L382.01,103.18 L382.28,103.18 L382.54,103.18 L382.8,103.18 L383.07,103.18 L383.33,103.17 L383.6,103.17 L383.86,103.17 L384.13,103.17 L384.39,103.17 L384.66,103.17 L384.92,103.17 L385.19,103.17 L385.45,103.17 L385.72,103.17 L385.98,103.17 L386.24,103.17 L386.51,103.17 L386.77,103.17 L387.04,103.16 L387.3,103.16 L387.57,103.16 L387.83,103.16 L388.1,103.16 L388.36,103.16 L388.63,103.16 L388.89,103.16 L389.16,103.16 L389.42,103.15 L389.68,103.15 L389.95,103.15 L390.21,103.15 L390.48,103.15 L390.74,103.15 L391.01,103.14 L391.27,103.14 L391.54,103.14 L391.8,103.14 L392.07,103.14 L392.33,103.14 L392.59,103.13 L392.86,103.13 L393.12,103.13 L393.39,103.13 L393.65,103.12 L393.92,103.12 L394.18,103.12 L394.45,103.12 L394.71,103.11 L394.98,103.11 L395.24,103.11 L395.51,103.11 L395.77,103.1 L396.03,103.1" fill="none" stroke="#ffffff" stroke-width="1.2" opacity="0.45"/>
<rect x="264" y="3" width="132.2" height="104.6" fill="none" stroke="#3a3a3a" stroke-width="0.75"/>
<line x1="280.52" y1="107.6" x2="280.52" y2="105.2" stroke="#3a3a3a" stroke-width="0.6"/>
<line x1="280.52" y1="3" x2="280.52" y2="5.4" stroke="#3a3a3a" stroke-width="0.6"/>
<line x1="297.05" y1="107.6" x2="297.05" y2="105.2" stroke="#3a3a3a" stroke-width="0.6"/>
<line x1="297.05" y1="3" x2="297.05" y2="5.4" stroke="#3a3a3a" stroke-width="0.6"/>
<line x1="313.57" y1="107.6" x2="313.57" y2="105.2" stroke="#3a3a3a" stroke-width="0.6"/>
<line x1="313.57" y1="3" x2="313.57" y2="5.4" stroke="#3a3a3a" stroke-width="0.6"/>
<line x1="330.1" y1="107.6" x2="330.1" y2="105.2" stroke="#3a3a3a" stroke-width="0.6"/>
<line x1="330.1" y1="3" x2="330.1" y2="5.4" stroke="#3a3a3a" stroke-width="0.6"/>
<line x1="346.62" y1="107.6" x2="346.62" y2="105.2" stroke="#3a3a3a" stroke-width="0.6"/>
<line x1="346.62" y1="3" x2="346.62" y2="5.4" stroke="#3a3a3a" stroke-width="0.6"/>
<line x1="363.15" y1="107.6" x2="363.15" y2="105.2" stroke="#3a3a3a" stroke-width="0.6"/>
<line x1="363.15" y1="3" x2="363.15" y2="5.4" stroke="#3a3a3a" stroke-width="0.6"/>
<line x1="379.68" y1="107.6" x2="379.68" y2="105.2" stroke="#3a3a3a" stroke-width="0.6"/>
<line x1="379.68" y1="3" x2="379.68" y2="5.4" stroke="#3a3a3a" stroke-width="0.6"/>
<line x1="272.26" y1="107.6" x2="272.26" y2="106.2" stroke="#3a3a3a" stroke-width="0.6"/>
<line x1="272.26" y1="3" x2="272.26" y2="4.4" stroke="#3a3a3a" stroke-width="0.6"/>
<line x1="288.79" y1="107.6" x2="288.79" y2="106.2" stroke="#3a3a3a" stroke-width="0.6"/>
<line x1="288.79" y1="3" x2="288.79" y2="4.4" stroke="#3a3a3a" stroke-width="0.6"/>
<line x1="305.31" y1="107.6" x2="305.31" y2="106.2" stroke="#3a3a3a" stroke-width="0.6"/>
<line x1="305.31" y1="3" x2="305.31" y2="4.4" stroke="#3a3a3a" stroke-width="0.6"/>
<line x1="321.84" y1="107.6" x2="321.84" y2="106.2" stroke="#3a3a3a" stroke-width="0.6"/>
<line x1="321.84" y1="3" x2="321.84" y2="4.4" stroke="#3a3a3a" stroke-width="0.6"/>
<line x1="338.36" y1="107.6" x2="338.36" y2="106.2" stroke="#3a3a3a" stroke-width="0.6"/>
<line x1="338.36" y1="3" x2="338.36" y2="4.4" stroke="#3a3a3a" stroke-width="0.6"/>
<line x1="354.89" y1="107.6" x2="354.89" y2="106.2" stroke="#3a3a3a" stroke-width="0.6"/>
<line x1="354.89" y1="3" x2="354.89" y2="4.4" stroke="#3a3a3a" stroke-width="0.6"/>
<line x1="371.41" y1="107.6" x2="371.41" y2="106.2" stroke="#3a3a3a" stroke-width="0.6"/>
<line x1="371.41" y1="3" x2="371.41" y2="4.4" stroke="#3a3a3a" stroke-width="0.6"/>
<line x1="387.94" y1="107.6" x2="387.94" y2="106.2" stroke="#3a3a3a" stroke-width="0.6"/>
<line x1="387.94" y1="3" x2="387.94" y2="4.4" stroke="#3a3a3a" stroke-width="0.6"/>
<line x1="264" y1="103.3" x2="266.4" y2="103.3" stroke="#3a3a3a" stroke-width="0.6"/>
<line x1="396.2" y1="103.3" x2="393.8" y2="103.3" stroke="#3a3a3a" stroke-width="0.6"/>
<line x1="264" y1="83.2" x2="266.4" y2="83.2" stroke="#3a3a3a" stroke-width="0.6"/>
<line x1="396.2" y1="83.2" x2="393.8" y2="83.2" stroke="#3a3a3a" stroke-width="0.6"/>
<line x1="264" y1="63.1" x2="266.4" y2="63.1" stroke="#3a3a3a" stroke-width="0.6"/>
<line x1="396.2" y1="63.1" x2="393.8" y2="63.1" stroke="#3a3a3a" stroke-width="0.6"/>
<line x1="264" y1="43" x2="266.4" y2="43" stroke="#3a3a3a" stroke-width="0.6"/>
<line x1="396.2" y1="43" x2="393.8" y2="43" stroke="#3a3a3a" stroke-width="0.6"/>
<line x1="264" y1="22.9" x2="266.4" y2="22.9" stroke="#3a3a3a" stroke-width="0.6"/>
<line x1="396.2" y1="22.9" x2="393.8" y2="22.9" stroke="#3a3a3a" stroke-width="0.6"/>
<line x1="264" y1="2.8" x2="266.4" y2="2.8" stroke="#3a3a3a" stroke-width="0.6"/>
<line x1="396.2" y1="2.8" x2="393.8" y2="2.8" stroke="#3a3a3a" stroke-width="0.6"/>
<line x1="264" y1="93.25" x2="265.4" y2="93.25" stroke="#3a3a3a" stroke-width="0.6"/>
<line x1="396.2" y1="93.25" x2="394.8" y2="93.25" stroke="#3a3a3a" stroke-width="0.6"/>
<line x1="264" y1="73.15" x2="265.4" y2="73.15" stroke="#3a3a3a" stroke-width="0.6"/>
<line x1="396.2" y1="73.15" x2="394.8" y2="73.15" stroke="#3a3a3a" stroke-width="0.6"/>
<line x1="264" y1="53.05" x2="265.4" y2="53.05" stroke="#3a3a3a" stroke-width="0.6"/>
<line x1="396.2" y1="53.05" x2="394.8" y2="53.05" stroke="#3a3a3a" stroke-width="0.6"/>
<line x1="264" y1="32.95" x2="265.4" y2="32.95" stroke="#3a3a3a" stroke-width="0.6"/>
<line x1="396.2" y1="32.95" x2="394.8" y2="32.95" stroke="#3a3a3a" stroke-width="0.6"/>
<line x1="264" y1="12.85" x2="265.4" y2="12.85" stroke="#3a3a3a" stroke-width="0.6"/>
<line x1="396.2" y1="12.85" x2="394.8" y2="12.85" stroke="#3a3a3a" stroke-width="0.6"/>
<text x="264" y="115.6" font-size="7.2" text-anchor="middle" fill="#222">0</text>
<text x="280.52" y="115.6" font-size="7.2" text-anchor="middle" fill="#222">50</text>
<text x="297.05" y="115.6" font-size="7.2" text-anchor="middle" fill="#222">100</text>
<text x="313.57" y="115.6" font-size="7.2" text-anchor="middle" fill="#222">150</text>
<text x="330.1" y="115.6" font-size="7.2" text-anchor="middle" fill="#222">200</text>
<text x="346.62" y="115.6" font-size="7.2" text-anchor="middle" fill="#222">250</text>
<text x="363.15" y="115.6" font-size="7.2" text-anchor="middle" fill="#222">300</text>
<text x="379.68" y="115.6" font-size="7.2" text-anchor="middle" fill="#222">350</text>
<text x="396.2" y="115.6" font-size="7.2" text-anchor="middle" fill="#222">400</text>
<text x="262.2" y="105.7" font-size="7.2" text-anchor="end" fill="#222">0</text>
<text x="262.2" y="85.6" font-size="7.2" text-anchor="end" fill="#222">5</text>
<text x="262.2" y="65.5" font-size="7.2" text-anchor="end" fill="#222">10</text>
<text x="262.2" y="45.4" font-size="7.2" text-anchor="end" fill="#222">15</text>
<text x="262.2" y="25.3" font-size="7.2" text-anchor="end" fill="#222">20</text>
<text x="262.2" y="5.2" font-size="7.2" text-anchor="end" fill="#222">25</text>
<text x="330.3" y="123.8" font-size="9.4" text-anchor="middle" fill="#222" stroke="#222" stroke-width="0.12"><tspan font-style="italic">T</tspan> (K)</text>
<text x="254" y="54.3" font-size="9.0" text-anchor="middle" fill="#222" stroke="#222" stroke-width="0.12" transform="rotate(-90 254 54.3)"><tspan font-style="italic">M</tspan> (emu/g)</text>
<text x="347.8" y="27.8" font-size="7.6" text-anchor="start" fill="#222">In-plane</text>
<text x="310.2" y="72.4" font-size="7.6" text-anchor="start" fill="#222">Out-of-plane</text>
<line x1="353.9" y1="30.1" x2="347.4" y2="36.6" stroke="#ff1010" stroke-width="0.6"/>
<path d="M347.4,36.6 L348.06,34.71 L349.29,35.94 Z" fill="#ff1010"/>
<line x1="314.4" y1="73.6" x2="312.8" y2="80" stroke="#1a1aff" stroke-width="0.6"/>
<path d="M312.8,80 L312.39,78.04 L314.08,78.46 Z" fill="#1a1aff"/>
<clipPath id="cC"><rect x="109.7" y="129.3" width="132.3" height="105.1"/></clipPath>
<g clip-path="url(#cC)">
<path d="M110,141.3 L110.5,141.31 L111,141.33 L111.5,141.36 L112,141.41 L112.5,141.47 L113,141.54 L113.5,141.63 L114,141.73 L114.5,141.85 L115.01,141.98 L115.51,142.12 L116.01,142.27 L116.51,142.44 L117.01,142.63 L117.51,142.82 L118.01,143.03 L118.51,143.26 L119.01,143.49 L119.51,143.74 L120.01,144.01 L120.51,144.29 L121.01,144.58 L121.51,144.88 L122.01,145.2 L122.51,145.53 L123.01,145.88 L123.51,146.23 L124.02,146.61 L124.52,146.99 L125.02,147.39 L125.52,147.81 L126.02,148.23 L126.52,148.67 L127.02,149.13 L127.52,149.59 L128.02,150.07 L128.52,150.57 L129.02,151.08 L129.52,151.6 L130.02,152.13 L130.52,152.68 L131.02,153.24 L131.52,153.82 L132.02,154.41 L132.52,155.01 L133.03,155.62 L133.53,156.25 L134.03,156.9 L134.53,157.55 L135.03,158.22 L135.53,158.91 L136.03,159.6 L136.53,160.32 L137.03,161.04 L137.53,161.78 L138.03,162.53 L138.53,163.29 L139.03,164.07 L139.53,164.86 L140.03,165.67 L140.53,166.49 L141.03,167.32 L141.53,168.17 L142.04,169.03 L142.54,169.9 L143.04,170.79 L143.54,171.69 L144.04,172.6 L144.54,173.53 L145.04,174.47 L145.54,175.42 L146.04,176.39 L146.54,177.37 L147.04,178.37 L147.54,179.38 L148.04,180.4 L148.54,181.44 L149.04,182.49 L149.54,183.55 L150.04,184.62 L150.54,185.71 L151.05,186.82 L151.55,187.93 L152.05,189.07 L152.55,190.21 L153.05,191.37 L153.55,192.54 L154.05,193.72 L154.55,194.92 L155.05,196.13 L155.55,197.36 L156.05,198.6 L156.55,199.85 L157.05,201.11 L157.55,202.39 L158.05,203.69 L158.55,204.99 L159.05,206.31 L159.55,207.65 L160.06,208.99 L160.56,210.35 L161.06,211.73 L161.56,213.12 L162.06,214.52 L162.56,215.93 L163.06,217.36 L163.56,218.8 L164.06,220.26 L164.56,221.73 L165.06,223.21 L165.56,224.71 L166.06,226.22 L166.56,227.74 L167.06,229.28 L167.56,230.83 L168.06,232.39 L168.56,233.97 L169.07,235.56 L169.57,237.16" fill="none" stroke="#5b6cf5" stroke-width="1.1"/>
<path d="M110,141.3 L110.66,141.33 L111.33,141.38 L111.99,141.44 L112.65,141.52 L113.32,141.61 L113.98,141.7 L114.64,141.81 L115.3,141.93 L115.97,142.05 L116.63,142.18 L117.29,142.32 L117.96,142.47 L118.62,142.62 L119.28,142.78 L119.95,142.94 L120.61,143.11 L121.27,143.29 L121.94,143.47 L122.6,143.66 L123.26,143.85 L123.92,144.05 L124.59,144.25 L125.25,144.46 L125.91,144.67 L126.58,144.89 L127.24,145.11 L127.9,145.34 L128.57,145.57 L129.23,145.81 L129.89,146.05 L130.56,146.29 L131.22,146.54 L131.88,146.79 L132.54,147.05 L133.21,147.31 L133.87,147.57 L134.53,147.84 L135.2,148.11 L135.86,148.39 L136.52,148.67 L137.19,148.95 L137.85,149.24 L138.51,149.53 L139.17,149.83 L139.84,150.12 L140.5,150.43 L141.16,150.73 L141.83,151.04 L142.49,151.35 L143.15,151.67 L143.82,151.99 L144.48,152.31 L145.14,152.64 L145.81,152.96 L146.47,153.3 L147.13,153.63 L147.79,153.97 L148.46,154.31 L149.12,154.66 L149.78,155 L150.45,155.36 L151.11,155.71 L151.77,156.07 L152.44,156.43 L153.1,156.79 L153.76,157.16 L154.43,157.52 L155.09,157.9 L155.75,158.27 L156.41,158.65 L157.08,159.03 L157.74,159.41 L158.4,159.8 L159.07,160.19 L159.73,160.58 L160.39,160.98 L161.06,161.37 L161.72,161.77 L162.38,162.18 L163.05,162.58 L163.71,162.99 L164.37,163.4 L165.03,163.81 L165.7,164.23 L166.36,164.65 L167.02,165.07 L167.69,165.5 L168.35,165.92 L169.01,166.35 L169.68,166.78 L170.34,167.22 L171,167.66 L171.67,168.1 L172.33,168.54 L172.99,168.98 L173.65,169.43 L174.32,169.88 L174.98,170.33 L175.64,170.79 L176.31,171.24 L176.97,171.7 L177.63,172.16 L178.3,172.63 L178.96,173.09 L179.62,173.56 L180.28,174.03 L180.95,174.51 L181.61,174.98 L182.27,175.46 L182.94,175.94 L183.6,176.43 L184.26,176.91 L184.93,177.4 L185.59,177.89 L186.25,178.38 L186.92,178.88 L187.58,179.37 L188.24,179.87 L188.9,180.37 L189.57,180.88 L190.23,181.38 L190.89,181.89 L191.56,182.4 L192.22,182.91 L192.88,183.43 L193.55,183.94 L194.21,184.46 L194.87,184.98 L195.54,185.51 L196.2,186.03 L196.86,186.56 L197.52,187.09 L198.19,187.62 L198.85,188.15 L199.51,188.69 L200.18,189.23 L200.84,189.77 L201.5,190.31 L202.17,190.86 L202.83,191.4 L203.49,191.95 L204.16,192.5 L204.82,193.05 L205.48,193.61 L206.14,194.17 L206.81,194.72 L207.47,195.29 L208.13,195.85 L208.8,196.41 L209.46,196.98 L210.12,197.55 L210.79,198.12 L211.45,198.69 L212.11,199.27 L212.78,199.84 L213.44,200.42 L214.1,201 L214.76,201.59 L215.43,202.17 L216.09,202.76 L216.75,203.35 L217.42,203.94 L218.08,204.53 L218.74,205.13 L219.41,205.72 L220.07,206.32 L220.73,206.92 L221.39,207.52 L222.06,208.13 L222.72,208.73 L223.38,209.34 L224.05,209.95 L224.71,210.56 L225.37,211.18 L226.04,211.79 L226.7,212.41 L227.36,213.03 L228.03,213.65 L228.69,214.27 L229.35,214.9 L230.01,215.52 L230.68,216.15 L231.34,216.78 L232,217.41 L232.67,218.05 L233.33,218.68 L233.99,219.32 L234.66,219.96 L235.32,220.6 L235.98,221.24 L236.65,221.89 L237.31,222.53 L237.97,223.18 L238.63,223.83 L239.3,224.48 L239.96,225.14 L240.62,225.79 L241.29,226.45 L241.95,227.11" fill="none" stroke="#22a022" stroke-width="1.1"/>
<path d="M110,141.3 L110.66,141.33 L111.33,141.39 L111.99,141.46 L112.65,141.55 L113.32,141.64 L113.98,141.75 L114.64,141.86 L115.3,141.98 L115.97,142.11 L116.63,142.25 L117.29,142.39 L117.96,142.54 L118.62,142.7 L119.28,142.86 L119.95,143.03 L120.61,143.2 L121.27,143.38 L121.94,143.56 L122.6,143.75 L123.26,143.94 L123.92,144.14 L124.59,144.34 L125.25,144.55 L125.91,144.76 L126.58,144.97 L127.24,145.19 L127.9,145.41 L128.57,145.64 L129.23,145.87 L129.89,146.1 L130.56,146.34 L131.22,146.58 L131.88,146.83 L132.54,147.08 L133.21,147.33 L133.87,147.58 L134.53,147.84 L135.2,148.1 L135.86,148.37 L136.52,148.64 L137.19,148.91 L137.85,149.19 L138.51,149.46 L139.17,149.75 L139.84,150.03 L140.5,150.32 L141.16,150.61 L141.83,150.9 L142.49,151.2 L143.15,151.5 L143.82,151.8 L144.48,152.1 L145.14,152.41 L145.81,152.72 L146.47,153.04 L147.13,153.35 L147.79,153.67 L148.46,153.99 L149.12,154.31 L149.78,154.64 L150.45,154.97 L151.11,155.3 L151.77,155.64 L152.44,155.97 L153.1,156.31 L153.76,156.65 L154.43,157 L155.09,157.34 L155.75,157.69 L156.41,158.04 L157.08,158.4 L157.74,158.75 L158.4,159.11 L159.07,159.47 L159.73,159.84 L160.39,160.2 L161.06,160.57 L161.72,160.94 L162.38,161.31 L163.05,161.69 L163.71,162.06 L164.37,162.44 L165.03,162.82 L165.7,163.21 L166.36,163.59 L167.02,163.98 L167.69,164.37 L168.35,164.76 L169.01,165.16 L169.68,165.55 L170.34,165.95 L171,166.35 L171.67,166.75 L172.33,167.16 L172.99,167.56 L173.65,167.97 L174.32,168.38 L174.98,168.8 L175.64,169.21 L176.31,169.63 L176.97,170.05 L177.63,170.47 L178.3,170.89 L178.96,171.31 L179.62,171.74 L180.28,172.17 L180.95,172.6 L181.61,173.03 L182.27,173.46 L182.94,173.9 L183.6,174.34 L184.26,174.78 L184.93,175.22 L185.59,175.66 L186.25,176.11 L186.92,176.55 L187.58,177 L188.24,177.45 L188.9,177.91 L189.57,178.36 L190.23,178.82 L190.89,179.27 L191.56,179.73 L192.22,180.2 L192.88,180.66 L193.55,181.12 L194.21,181.59 L194.87,182.06 L195.54,182.53 L196.2,183 L196.86,183.47 L197.52,183.95 L198.19,184.43 L198.85,184.91 L199.51,185.39 L200.18,185.87 L200.84,186.35 L201.5,186.84 L202.17,187.33 L202.83,187.81 L203.49,188.31 L204.16,188.8 L204.82,189.29 L205.48,189.79 L206.14,190.28 L206.81,190.78 L207.47,191.28 L208.13,191.78 L208.8,192.29 L209.46,192.79 L210.12,193.3 L210.79,193.81 L211.45,194.32 L212.11,194.83 L212.78,195.34 L213.44,195.86 L214.1,196.37 L214.76,196.89 L215.43,197.41 L216.09,197.93 L216.75,198.46 L217.42,198.98 L218.08,199.5 L218.74,200.03 L219.41,200.56 L220.07,201.09 L220.73,201.62 L221.39,202.16 L222.06,202.69 L222.72,203.23 L223.38,203.76 L224.05,204.3 L224.71,204.84 L225.37,205.39 L226.04,205.93 L226.7,206.47 L227.36,207.02 L228.03,207.57 L228.69,208.12 L229.35,208.67 L230.01,209.22 L230.68,209.78 L231.34,210.33 L232,210.89 L232.67,211.45 L233.33,212.01 L233.99,212.57 L234.66,213.13 L235.32,213.69 L235.98,214.26 L236.65,214.83 L237.31,215.39 L237.97,215.96 L238.63,216.53 L239.3,217.11 L239.96,217.68 L240.62,218.26 L241.29,218.83 L241.95,219.41" fill="none" stroke="#a855f0" stroke-width="1.1"/>
</g>
<line x1="117.54" y1="132.2" x2="117.54" y2="152.4" stroke="#666" stroke-width="0.55"/>
<line x1="116.74" y1="132.2" x2="118.34" y2="132.2" stroke="#666" stroke-width="0.55"/>
<line x1="116.74" y1="152.4" x2="118.34" y2="152.4" stroke="#666" stroke-width="0.55"/>
<path d="M117.54,140 L119.94,142.4 L117.54,144.8 L115.14,142.4 Z" fill="none" stroke="#f08a24" stroke-width="1.1"/>
<line x1="128.85" y1="139.7" x2="128.85" y2="152.4" stroke="#666" stroke-width="0.55"/>
<line x1="128.05" y1="139.7" x2="129.65" y2="139.7" stroke="#666" stroke-width="0.55"/>
<line x1="128.05" y1="152.4" x2="129.65" y2="152.4" stroke="#666" stroke-width="0.55"/>
<path d="M128.85,143.7 L131.25,146.1 L128.85,148.5 L126.45,146.1 Z" fill="none" stroke="#f08a24" stroke-width="1.1"/>
<line x1="147.7" y1="148.8" x2="147.7" y2="160.8" stroke="#666" stroke-width="0.55"/>
<line x1="146.9" y1="148.8" x2="148.5" y2="148.8" stroke="#666" stroke-width="0.55"/>
<line x1="146.9" y1="160.8" x2="148.5" y2="160.8" stroke="#666" stroke-width="0.55"/>
<path d="M147.7,152.34 L150.1,154.74 L147.7,157.14 L145.3,154.74 Z" fill="none" stroke="#f08a24" stroke-width="1.1"/>
<line x1="166.55" y1="158" x2="166.55" y2="171" stroke="#666" stroke-width="0.55"/>
<line x1="165.75" y1="158" x2="167.35" y2="158" stroke="#666" stroke-width="0.55"/>
<line x1="165.75" y1="171" x2="167.35" y2="171" stroke="#666" stroke-width="0.55"/>
<path d="M166.55,161.7 L168.95,164.1 L166.55,166.5 L164.15,164.1 Z" fill="none" stroke="#f08a24" stroke-width="1.1"/>
<line x1="185.4" y1="173.4" x2="185.4" y2="182" stroke="#666" stroke-width="0.55"/>
<line x1="184.6" y1="173.4" x2="186.2" y2="173.4" stroke="#666" stroke-width="0.55"/>
<line x1="184.6" y1="182" x2="186.2" y2="182" stroke="#666" stroke-width="0.55"/>
<path d="M185.4,175.38 L187.8,177.78 L185.4,180.18 L183,177.78 Z" fill="none" stroke="#f08a24" stroke-width="1.1"/>
<line x1="204.25" y1="188.3" x2="204.25" y2="197.9" stroke="#666" stroke-width="0.55"/>
<line x1="203.45" y1="188.3" x2="205.05" y2="188.3" stroke="#666" stroke-width="0.55"/>
<line x1="203.45" y1="197.9" x2="205.05" y2="197.9" stroke="#666" stroke-width="0.55"/>
<path d="M204.25,190.74 L206.65,193.14 L204.25,195.54 L201.85,193.14 Z" fill="none" stroke="#f08a24" stroke-width="1.1"/>
<line x1="223.1" y1="204.2" x2="223.1" y2="213.7" stroke="#666" stroke-width="0.55"/>
<line x1="222.3" y1="204.2" x2="223.9" y2="204.2" stroke="#666" stroke-width="0.55"/>
<line x1="222.3" y1="213.7" x2="223.9" y2="213.7" stroke="#666" stroke-width="0.55"/>
<path d="M223.1,206.58 L225.5,208.98 L223.1,211.38 L220.7,208.98 Z" fill="none" stroke="#f08a24" stroke-width="1.1"/>
<rect x="109.7" y="129.3" width="132.3" height="105.1" fill="none" stroke="#3a3a3a" stroke-width="0.75"/>
<line x1="128.85" y1="234.4" x2="128.85" y2="232" stroke="#3a3a3a" stroke-width="0.6"/>
<line x1="128.85" y1="129.3" x2="128.85" y2="131.7" stroke="#3a3a3a" stroke-width="0.6"/>
<line x1="147.7" y1="234.4" x2="147.7" y2="232" stroke="#3a3a3a" stroke-width="0.6"/>
<line x1="147.7" y1="129.3" x2="147.7" y2="131.7" stroke="#3a3a3a" stroke-width="0.6"/>
<line x1="166.55" y1="234.4" x2="166.55" y2="232" stroke="#3a3a3a" stroke-width="0.6"/>
<line x1="166.55" y1="129.3" x2="166.55" y2="131.7" stroke="#3a3a3a" stroke-width="0.6"/>
<line x1="185.4" y1="234.4" x2="185.4" y2="232" stroke="#3a3a3a" stroke-width="0.6"/>
<line x1="185.4" y1="129.3" x2="185.4" y2="131.7" stroke="#3a3a3a" stroke-width="0.6"/>
<line x1="204.25" y1="234.4" x2="204.25" y2="232" stroke="#3a3a3a" stroke-width="0.6"/>
<line x1="204.25" y1="129.3" x2="204.25" y2="131.7" stroke="#3a3a3a" stroke-width="0.6"/>
<line x1="223.1" y1="234.4" x2="223.1" y2="232" stroke="#3a3a3a" stroke-width="0.6"/>
<line x1="223.1" y1="129.3" x2="223.1" y2="131.7" stroke="#3a3a3a" stroke-width="0.6"/>
<line x1="119.42" y1="234.4" x2="119.42" y2="233" stroke="#3a3a3a" stroke-width="0.6"/>
<line x1="119.42" y1="129.3" x2="119.42" y2="130.7" stroke="#3a3a3a" stroke-width="0.6"/>
<line x1="138.28" y1="234.4" x2="138.28" y2="233" stroke="#3a3a3a" stroke-width="0.6"/>
<line x1="138.28" y1="129.3" x2="138.28" y2="130.7" stroke="#3a3a3a" stroke-width="0.6"/>
<line x1="157.12" y1="234.4" x2="157.12" y2="233" stroke="#3a3a3a" stroke-width="0.6"/>
<line x1="157.12" y1="129.3" x2="157.12" y2="130.7" stroke="#3a3a3a" stroke-width="0.6"/>
<line x1="175.97" y1="234.4" x2="175.97" y2="233" stroke="#3a3a3a" stroke-width="0.6"/>
<line x1="175.97" y1="129.3" x2="175.97" y2="130.7" stroke="#3a3a3a" stroke-width="0.6"/>
<line x1="194.82" y1="234.4" x2="194.82" y2="233" stroke="#3a3a3a" stroke-width="0.6"/>
<line x1="194.82" y1="129.3" x2="194.82" y2="130.7" stroke="#3a3a3a" stroke-width="0.6"/>
<line x1="213.68" y1="234.4" x2="213.68" y2="233" stroke="#3a3a3a" stroke-width="0.6"/>
<line x1="213.68" y1="129.3" x2="213.68" y2="130.7" stroke="#3a3a3a" stroke-width="0.6"/>
<line x1="232.53" y1="234.4" x2="232.53" y2="233" stroke="#3a3a3a" stroke-width="0.6"/>
<line x1="232.53" y1="129.3" x2="232.53" y2="130.7" stroke="#3a3a3a" stroke-width="0.6"/>
<line x1="109.7" y1="225.3" x2="112.1" y2="225.3" stroke="#3a3a3a" stroke-width="0.6"/>
<line x1="242" y1="225.3" x2="239.6" y2="225.3" stroke="#3a3a3a" stroke-width="0.6"/>
<line x1="109.7" y1="201.3" x2="112.1" y2="201.3" stroke="#3a3a3a" stroke-width="0.6"/>
<line x1="242" y1="201.3" x2="239.6" y2="201.3" stroke="#3a3a3a" stroke-width="0.6"/>
<line x1="109.7" y1="177.3" x2="112.1" y2="177.3" stroke="#3a3a3a" stroke-width="0.6"/>
<line x1="242" y1="177.3" x2="239.6" y2="177.3" stroke="#3a3a3a" stroke-width="0.6"/>
<line x1="109.7" y1="153.3" x2="112.1" y2="153.3" stroke="#3a3a3a" stroke-width="0.6"/>
<line x1="242" y1="153.3" x2="239.6" y2="153.3" stroke="#3a3a3a" stroke-width="0.6"/>
<line x1="109.7" y1="237.3" x2="111.1" y2="237.3" stroke="#3a3a3a" stroke-width="0.6"/>
<line x1="242" y1="237.3" x2="240.6" y2="237.3" stroke="#3a3a3a" stroke-width="0.6"/>
<line x1="109.7" y1="213.3" x2="111.1" y2="213.3" stroke="#3a3a3a" stroke-width="0.6"/>
<line x1="242" y1="213.3" x2="240.6" y2="213.3" stroke="#3a3a3a" stroke-width="0.6"/>
<line x1="109.7" y1="189.3" x2="111.1" y2="189.3" stroke="#3a3a3a" stroke-width="0.6"/>
<line x1="242" y1="189.3" x2="240.6" y2="189.3" stroke="#3a3a3a" stroke-width="0.6"/>
<line x1="109.7" y1="165.3" x2="111.1" y2="165.3" stroke="#3a3a3a" stroke-width="0.6"/>
<line x1="242" y1="165.3" x2="240.6" y2="165.3" stroke="#3a3a3a" stroke-width="0.6"/>
<line x1="109.7" y1="141.3" x2="111.1" y2="141.3" stroke="#3a3a3a" stroke-width="0.6"/>
<line x1="242" y1="141.3" x2="240.6" y2="141.3" stroke="#3a3a3a" stroke-width="0.6"/>
<text x="110" y="241.9" font-size="7.2" text-anchor="middle" fill="#222">0</text>
<text x="128.85" y="241.9" font-size="7.2" text-anchor="middle" fill="#222">5</text>
<text x="147.7" y="241.9" font-size="7.2" text-anchor="middle" fill="#222">10</text>
<text x="166.55" y="241.9" font-size="7.2" text-anchor="middle" fill="#222">15</text>
<text x="185.4" y="241.9" font-size="7.2" text-anchor="middle" fill="#222">20</text>
<text x="204.25" y="241.9" font-size="7.2" text-anchor="middle" fill="#222">25</text>
<text x="223.1" y="241.9" font-size="7.2" text-anchor="middle" fill="#222">30</text>
<text x="241.95" y="241.9" font-size="7.2" text-anchor="middle" fill="#222">35</text>
<text x="108.3" y="227.7" font-size="7.2" text-anchor="end" fill="#222">88.0</text>
<text x="108.3" y="203.7" font-size="7.2" text-anchor="end" fill="#222">88.5</text>
<text x="108.3" y="179.7" font-size="7.2" text-anchor="end" fill="#222">89.0</text>
<text x="108.3" y="155.7" font-size="7.2" text-anchor="end" fill="#222">89.5</text>
<text x="108.3" y="131.7" font-size="7.2" text-anchor="end" fill="#222">90.0</text>
<text x="176" y="249.2" font-size="9.4" text-anchor="middle" fill="#222" stroke="#222" stroke-width="0.12"><tspan font-style="italic">T</tspan> (K)</text>
<text x="93.4" y="185.3" font-size="9.6" text-anchor="middle" fill="#222" stroke="#222" stroke-width="0.12" transform="rotate(-90 93.4 185.3)"><tspan font-style="italic">M</tspan><tspan font-size="6.6" dy="1.6" font-style="italic">S</tspan><tspan dy="-1.6"> (emu/g)</tspan></text>
<path d="M181.9,133 L184.1,135.2 L181.9,137.4 L179.7,135.2 Z" fill="none" stroke="#f08a24" stroke-width="0.9"/>
<text x="190.6" y="137.3" font-size="6.1" text-anchor="start" fill="#222"><tspan font-style="italic">M</tspan><tspan font-size="4.2" dy="1">s</tspan><tspan dy="-1"> derived by LAS</tspan></text>
<line x1="175.6" y1="143.9" x2="189.1" y2="143.9" stroke="#5b6cf5" stroke-width="1.4"/>
<text x="190.3" y="146" font-size="5.9" text-anchor="start" fill="#222">Stoner's model curve</text>
<line x1="175.6" y1="151.4" x2="189.1" y2="151.4" stroke="#b04cf0" stroke-width="1.4"/>
<text x="190.3" y="153.5" font-size="5.9" text-anchor="start" fill="#222">Spin wave's curve</text>
<line x1="175.6" y1="158.7" x2="189.1" y2="158.7" stroke="#22a022" stroke-width="1.4"/>
<text x="190.3" y="160.8" font-size="5.9" text-anchor="start" fill="#222">Fitting curve</text>
<clipPath id="cD"><rect x="264.8" y="129.3" width="133.4" height="106.1"/></clipPath>
<g clip-path="url(#cD)">
<line x1="265.5" y1="224.21" x2="397.5" y2="224.21" stroke="#222" stroke-width="0.7" stroke-dasharray="2.6,1.8"/>
<path d="M267.6,127 L268,130 L269.3,147.9 L270.7,165.7 L271.8,175 L273,182 L274.7,191.7 L277.1,200 L279.9,203.8 L285.8,211 L290,213.3 L297.7,215.9 L309.6,217.7 L321.5,218.7 L345,221 L370,221.6 L398,222.3" fill="none" stroke="#1a1a1a" stroke-width="1.35"/>
</g>
<polygon points="269.4,137.4 271.65,141.65 267.15,141.65" fill="#1a1aff"/>
<polygon points="264.3,186.3 267.7,184.5 267.7,188.1" fill="#1a1aff"/>
<polygon points="268.6,188.8 270.4,192.2 266.8,192.2" fill="#1a1aff"/>
<polygon points="268.2,197.8 270,194.4 266.4,194.4" fill="#1a1aff"/>
<polygon points="271.7,213.7 268.13,211.81 268.13,215.59" fill="#1a1aff"/>
<circle cx="296.3" cy="221.2" r="1.9" fill="#1a1aff"/>
<polygon points="310,218.2 306.43,216.31 306.43,220.09" fill="#1a1aff"/>
<path d="M321.2,216.8 L323.2,218.9 L321.2,221 L319.2,218.9Z" fill="#1a1aff"/>
<path d="M358,221.8 L360,223.9 L358,226 L356,223.9Z" fill="#1a1aff"/>
<polygon points="388.9,223 390.88,219.26 386.92,219.26" fill="#1a1aff"/>
<polygon points="290.5,226.4 292.66,222.32 288.34,222.32" fill="#1a8a1a"/>
<circle cx="266.8" cy="221.6" r="1.3" fill="none" stroke="#999" stroke-width="0.5" stroke-dasharray="0.8,0.6"/>
<circle cx="269.5" cy="221.4" r="1.3" fill="none" stroke="#999" stroke-width="0.5" stroke-dasharray="0.8,0.6"/>
<circle cx="272.6" cy="221.8" r="1.3" fill="none" stroke="#999" stroke-width="0.5" stroke-dasharray="0.8,0.6"/>
<circle cx="266.6" cy="226.8" r="1.3" fill="none" stroke="#999" stroke-width="0.5" stroke-dasharray="0.8,0.6"/>
<circle cx="269.8" cy="227" r="1.3" fill="none" stroke="#999" stroke-width="0.5" stroke-dasharray="0.8,0.6"/>
<circle cx="273" cy="226.6" r="1.3" fill="none" stroke="#999" stroke-width="0.5" stroke-dasharray="0.8,0.6"/>
<circle cx="268.7" cy="224.2" r="1.75" fill="#1a8a1a"/>
<circle cx="271.5" cy="224.2" r="1.75" fill="#1a8a1a"/>
<polygon points="266.3,224.2 269.02,222.76 269.02,225.64" fill="#1a8a1a"/>
<polygon points="273.9,224.2 271.18,222.76 271.18,225.64" fill="#1a8a1a"/>
<path d="M268.7,222.9 A1.3,1.3 0 0,1 268.7,225.5Z" fill="#bfe8bf"/>
<path d="M271.5,222.9 A1.3,1.3 0 0,1 271.5,225.5Z" fill="#bfe8bf"/>
<circle cx="317.6" cy="224.2" r="1.8" fill="#1a8a1a"/>
<path d="M317.6,222.8 A1.4,1.4 0 0,0 317.6,225.6Z" fill="#bfe8bf"/>
<polygon points="285,209.4 285.72,211.31 287.76,211.4 286.16,212.68 286.7,214.65 285,213.52 283.3,214.65 283.84,212.68 282.24,211.4 284.28,211.31" fill="none" stroke="#f08a24" stroke-width="0.95"/>
<polygon points="290.3,205.4 291.02,207.31 293.06,207.4 291.46,208.68 292,210.65 290.3,209.52 288.6,210.65 289.14,208.68 287.54,207.4 289.58,207.31" fill="none" stroke="#ff1010" stroke-width="0.95"/>
<line x1="285" y1="209.6" x2="285" y2="199.2" stroke="#f08a24" stroke-width="0.9"/>
<path d="M285,199.2 L285.96,201.18 L284.04,201.18 Z" fill="#f08a24"/>
<line x1="291.8" y1="206.6" x2="300.2" y2="192.4" stroke="#ff1010" stroke-width="0.6"/>
<path d="M300.2,192.4 L300.02,194.59 L298.37,193.62 Z" fill="#ff1010"/>
<line x1="274.2" y1="226.2" x2="280.2" y2="229.8" stroke="#1a8a1a" stroke-width="0.6"/>
<line x1="322.6" y1="220.6" x2="331.7" y2="228.6" stroke="#1a1aff" stroke-width="0.6"/>
<path d="M331.7,228.6 L329.97,228.12 L331,226.94 Z" fill="#1a1aff"/>
<line x1="357.9" y1="225.6" x2="358.2" y2="229.6" stroke="#1a1aff" stroke-width="0.8" stroke-dasharray="1.2,0.8"/>
<line x1="388.8" y1="223" x2="388.9" y2="228.6" stroke="#1a1aff" stroke-width="0.8" stroke-dasharray="1.2,0.8"/>
<text x="276.8" y="196.2" font-size="5.0" text-anchor="start" fill="#f08a24">Fe<tspan font-size="3.6" dy="1">5</tspan><tspan dy="-1">GeTe</tspan><tspan font-size="3.6" dy="1">2</tspan></text>
<text x="293.2" y="189.3" font-size="5.0" text-anchor="start" fill="#ff1010">Fe<tspan font-size="3.6" dy="1">3</tspan><tspan dy="-1">GeTe</tspan><tspan font-size="3.6" dy="1">2</tspan></text>
<text x="281" y="232.4" font-size="5.0" text-anchor="start" fill="#1a8a1a">CrBr<tspan font-size="3.6" dy="1">3</tspan><tspan dy="-1">, CrI</tspan><tspan font-size="3.6" dy="1">3</tspan><tspan dy="-1">, Cr</tspan><tspan font-size="3.6" dy="1">2</tspan><tspan dy="-1">Ge</tspan><tspan font-size="3.6" dy="1">2</tspan><tspan dy="-1">Te</tspan><tspan font-size="3.6" dy="1">6</tspan></text>
<text x="333.6" y="232.6" font-size="6.0" text-anchor="start" fill="#1a1aff">Ni</text>
<text x="359" y="232.4" font-size="5.8" text-anchor="start" fill="#1a1aff">Fe</text>
<text x="389.2" y="232.4" font-size="5.8" text-anchor="start" fill="#1a1aff">Co</text>
<rect x="264.8" y="129.3" width="133.4" height="106.1" fill="none" stroke="#3a3a3a" stroke-width="0.75"/>
<line x1="282.74" y1="235.4" x2="282.74" y2="233" stroke="#3a3a3a" stroke-width="0.6"/>
<line x1="282.74" y1="129.3" x2="282.74" y2="131.7" stroke="#3a3a3a" stroke-width="0.6"/>
<line x1="300.48" y1="235.4" x2="300.48" y2="233" stroke="#3a3a3a" stroke-width="0.6"/>
<line x1="300.48" y1="129.3" x2="300.48" y2="131.7" stroke="#3a3a3a" stroke-width="0.6"/>
<line x1="318.22" y1="235.4" x2="318.22" y2="233" stroke="#3a3a3a" stroke-width="0.6"/>
<line x1="318.22" y1="129.3" x2="318.22" y2="131.7" stroke="#3a3a3a" stroke-width="0.6"/>
<line x1="335.96" y1="235.4" x2="335.96" y2="233" stroke="#3a3a3a" stroke-width="0.6"/>
<line x1="335.96" y1="129.3" x2="335.96" y2="131.7" stroke="#3a3a3a" stroke-width="0.6"/>
<line x1="353.7" y1="235.4" x2="353.7" y2="233" stroke="#3a3a3a" stroke-width="0.6"/>
<line x1="353.7" y1="129.3" x2="353.7" y2="131.7" stroke="#3a3a3a" stroke-width="0.6"/>
<line x1="371.44" y1="235.4" x2="371.44" y2="233" stroke="#3a3a3a" stroke-width="0.6"/>
<line x1="371.44" y1="129.3" x2="371.44" y2="131.7" stroke="#3a3a3a" stroke-width="0.6"/>
<line x1="389.18" y1="235.4" x2="389.18" y2="233" stroke="#3a3a3a" stroke-width="0.6"/>
<line x1="389.18" y1="129.3" x2="389.18" y2="131.7" stroke="#3a3a3a" stroke-width="0.6"/>
<line x1="273.87" y1="235.4" x2="273.87" y2="234" stroke="#3a3a3a" stroke-width="0.6"/>
<line x1="273.87" y1="129.3" x2="273.87" y2="130.7" stroke="#3a3a3a" stroke-width="0.6"/>
<line x1="291.61" y1="235.4" x2="291.61" y2="234" stroke="#3a3a3a" stroke-width="0.6"/>
<line x1="291.61" y1="129.3" x2="291.61" y2="130.7" stroke="#3a3a3a" stroke-width="0.6"/>
<line x1="309.35" y1="235.4" x2="309.35" y2="234" stroke="#3a3a3a" stroke-width="0.6"/>
<line x1="309.35" y1="129.3" x2="309.35" y2="130.7" stroke="#3a3a3a" stroke-width="0.6"/>
<line x1="327.09" y1="235.4" x2="327.09" y2="234" stroke="#3a3a3a" stroke-width="0.6"/>
<line x1="327.09" y1="129.3" x2="327.09" y2="130.7" stroke="#3a3a3a" stroke-width="0.6"/>
<line x1="344.83" y1="235.4" x2="344.83" y2="234" stroke="#3a3a3a" stroke-width="0.6"/>
<line x1="344.83" y1="129.3" x2="344.83" y2="130.7" stroke="#3a3a3a" stroke-width="0.6"/>
<line x1="362.57" y1="235.4" x2="362.57" y2="234" stroke="#3a3a3a" stroke-width="0.6"/>
<line x1="362.57" y1="129.3" x2="362.57" y2="130.7" stroke="#3a3a3a" stroke-width="0.6"/>
<line x1="380.31" y1="235.4" x2="380.31" y2="234" stroke="#3a3a3a" stroke-width="0.6"/>
<line x1="380.31" y1="129.3" x2="380.31" y2="130.7" stroke="#3a3a3a" stroke-width="0.6"/>
<line x1="264.8" y1="224.21" x2="267.2" y2="224.21" stroke="#3a3a3a" stroke-width="0.6"/>
<line x1="398.2" y1="224.21" x2="395.8" y2="224.21" stroke="#3a3a3a" stroke-width="0.6"/>
<line x1="264.8" y1="213.02" x2="267.2" y2="213.02" stroke="#3a3a3a" stroke-width="0.6"/>
<line x1="398.2" y1="213.02" x2="395.8" y2="213.02" stroke="#3a3a3a" stroke-width="0.6"/>
<line x1="264.8" y1="201.83" x2="267.2" y2="201.83" stroke="#3a3a3a" stroke-width="0.6"/>
<line x1="398.2" y1="201.83" x2="395.8" y2="201.83" stroke="#3a3a3a" stroke-width="0.6"/>
<line x1="264.8" y1="190.64" x2="267.2" y2="190.64" stroke="#3a3a3a" stroke-width="0.6"/>
<line x1="398.2" y1="190.64" x2="395.8" y2="190.64" stroke="#3a3a3a" stroke-width="0.6"/>
<line x1="264.8" y1="179.45" x2="267.2" y2="179.45" stroke="#3a3a3a" stroke-width="0.6"/>
<line x1="398.2" y1="179.45" x2="395.8" y2="179.45" stroke="#3a3a3a" stroke-width="0.6"/>
<line x1="264.8" y1="168.26" x2="267.2" y2="168.26" stroke="#3a3a3a" stroke-width="0.6"/>
<line x1="398.2" y1="168.26" x2="395.8" y2="168.26" stroke="#3a3a3a" stroke-width="0.6"/>
<line x1="264.8" y1="157.07" x2="267.2" y2="157.07" stroke="#3a3a3a" stroke-width="0.6"/>
<line x1="398.2" y1="157.07" x2="395.8" y2="157.07" stroke="#3a3a3a" stroke-width="0.6"/>
<line x1="264.8" y1="145.88" x2="267.2" y2="145.88" stroke="#3a3a3a" stroke-width="0.6"/>
<line x1="398.2" y1="145.88" x2="395.8" y2="145.88" stroke="#3a3a3a" stroke-width="0.6"/>
<line x1="264.8" y1="134.69" x2="267.2" y2="134.69" stroke="#3a3a3a" stroke-width="0.6"/>
<line x1="398.2" y1="134.69" x2="395.8" y2="134.69" stroke="#3a3a3a" stroke-width="0.6"/>
<line x1="264.8" y1="229.81" x2="266.2" y2="229.81" stroke="#3a3a3a" stroke-width="0.6"/>
<line x1="398.2" y1="229.81" x2="396.8" y2="229.81" stroke="#3a3a3a" stroke-width="0.6"/>
<line x1="264.8" y1="218.62" x2="266.2" y2="218.62" stroke="#3a3a3a" stroke-width="0.6"/>
<line x1="398.2" y1="218.62" x2="396.8" y2="218.62" stroke="#3a3a3a" stroke-width="0.6"/>
<line x1="264.8" y1="207.43" x2="266.2" y2="207.43" stroke="#3a3a3a" stroke-width="0.6"/>
<line x1="398.2" y1="207.43" x2="396.8" y2="207.43" stroke="#3a3a3a" stroke-width="0.6"/>
<line x1="264.8" y1="196.24" x2="266.2" y2="196.24" stroke="#3a3a3a" stroke-width="0.6"/>
<line x1="398.2" y1="196.24" x2="396.8" y2="196.24" stroke="#3a3a3a" stroke-width="0.6"/>
<line x1="264.8" y1="185.05" x2="266.2" y2="185.05" stroke="#3a3a3a" stroke-width="0.6"/>
<line x1="398.2" y1="185.05" x2="396.8" y2="185.05" stroke="#3a3a3a" stroke-width="0.6"/>
<line x1="264.8" y1="173.86" x2="266.2" y2="173.86" stroke="#3a3a3a" stroke-width="0.6"/>
<line x1="398.2" y1="173.86" x2="396.8" y2="173.86" stroke="#3a3a3a" stroke-width="0.6"/>
<line x1="264.8" y1="162.67" x2="266.2" y2="162.67" stroke="#3a3a3a" stroke-width="0.6"/>
<line x1="398.2" y1="162.67" x2="396.8" y2="162.67" stroke="#3a3a3a" stroke-width="0.6"/>
<line x1="264.8" y1="151.48" x2="266.2" y2="151.48" stroke="#3a3a3a" stroke-width="0.6"/>
<line x1="398.2" y1="151.48" x2="396.8" y2="151.48" stroke="#3a3a3a" stroke-width="0.6"/>
<line x1="264.8" y1="140.29" x2="266.2" y2="140.29" stroke="#3a3a3a" stroke-width="0.6"/>
<line x1="398.2" y1="140.29" x2="396.8" y2="140.29" stroke="#3a3a3a" stroke-width="0.6"/>
<text x="265" y="242" font-size="6.6" text-anchor="middle" fill="#222">0</text>
<text x="282.74" y="242" font-size="6.6" text-anchor="middle" fill="#222">200</text>
<text x="300.48" y="242" font-size="6.6" text-anchor="middle" fill="#222">400</text>
<text x="318.22" y="242" font-size="6.6" text-anchor="middle" fill="#222">600</text>
<text x="335.96" y="242" font-size="6.6" text-anchor="middle" fill="#222">800</text>
<text x="353.7" y="242" font-size="6.6" text-anchor="middle" fill="#222">1000</text>
<text x="371.44" y="242" font-size="6.6" text-anchor="middle" fill="#222">1200</text>
<text x="389.18" y="242" font-size="6.6" text-anchor="middle" fill="#222">1400</text>
<text x="262.6" y="237.6" font-size="6.6" text-anchor="end" fill="#222">0</text>
<text x="262.6" y="226.41" font-size="6.6" text-anchor="end" fill="#222">1</text>
<text x="262.6" y="215.22" font-size="6.6" text-anchor="end" fill="#222">2</text>
<text x="262.6" y="204.03" font-size="6.6" text-anchor="end" fill="#222">3</text>
<text x="262.6" y="192.84" font-size="6.6" text-anchor="end" fill="#222">4</text>
<text x="262.6" y="181.65" font-size="6.6" text-anchor="end" fill="#222">5</text>
<text x="262.6" y="170.46" font-size="6.6" text-anchor="end" fill="#222">6</text>
<text x="262.6" y="159.27" font-size="6.6" text-anchor="end" fill="#222">7</text>
<text x="262.6" y="148.08" font-size="6.6" text-anchor="end" fill="#222">8</text>
<text x="262.6" y="136.89" font-size="6.6" text-anchor="end" fill="#222">9</text>
<text x="332" y="249.6" font-size="9.6" text-anchor="middle" fill="#222" stroke="#222" stroke-width="0.12"><tspan font-style="italic">T</tspan><tspan font-size="6.5" dy="2">C</tspan><tspan dy="-2"> (K)</tspan></text>
<text x="257.2" y="180.8" font-size="9.4" text-anchor="middle" fill="#222" stroke="#222" stroke-width="0.12" transform="rotate(-90 257.2 180.8)"><tspan font-style="italic">P</tspan><tspan font-size="5" dy="1.5">C</tspan><tspan dy="-1.5" font-style="italic">/P</tspan><tspan font-size="5.4" dy="1.5">S</tspan></text>
<line x1="317.1" y1="134.9" x2="329" y2="134.9" stroke="#333" stroke-width="1.4"/>
<text x="329.8" y="136.9" font-size="5.4" text-anchor="start" fill="#222" stroke="#222" stroke-width="0.2"><tspan font-style="italic">P</tspan><tspan font-size="3.6" dy="1">C</tspan><tspan dy="-1" font-style="italic">/P</tspan><tspan font-size="3.6" dy="1">S</tspan><tspan dy="-1"> ~ </tspan><tspan font-style="italic">T</tspan><tspan font-size="2.4" dy="-2.4">-2/3</tspan></text>
<polygon points="321.1,142.6 325.01,140.53 325.01,144.67" fill="#1a8a1a"/>
<text x="328.8" y="144.6" font-size="5.8" text-anchor="start" fill="#222" stroke="#222" stroke-width="0.2">Cr<tspan font-size="3.6" dy="1">2</tspan><tspan dy="-1">Ge</tspan><tspan font-size="3.6" dy="1">2</tspan><tspan dy="-1">Te</tspan><tspan font-size="3.6" dy="1">6</tspan></text>
<polygon points="325.7,150 321.79,147.93 321.79,152.07" fill="#1a8a1a"/>
<text x="328.8" y="152" font-size="5.8" text-anchor="start" fill="#222" stroke="#222" stroke-width="0.2">CrI<tspan font-size="3.6" dy="1">3</tspan></text>
<circle cx="323.4" cy="157.6" r="1.95" fill="#1a8a1a"/>
<path d="M323.7,156.3 A1.3,1.3 0 0,1 323.7,158.9Z" fill="#ffffff" opacity="0.55"/>
<text x="328.8" y="159.6" font-size="5.8" text-anchor="start" fill="#222" stroke="#222" stroke-width="0.2">CrBr<tspan font-size="3.6" dy="1">3</tspan></text>
<polygon points="323.4,167.8 325.47,163.89 321.33,163.89" fill="#1a8a1a"/>
<text x="328.8" y="167.5" font-size="5.8" text-anchor="start" fill="#222" stroke="#222" stroke-width="0.2">Gd</text>
<polygon points="323.4,169.8 325.47,173.71 321.33,173.71" fill="#1a8a1a"/>
<text x="328.8" y="174.1" font-size="5.8" text-anchor="start" fill="#222" stroke="#222" stroke-width="0.2">MnB</text>
<circle cx="323.4" cy="178.6" r="1.95" fill="#1a1aff"/>
<path d="M323.7,177.3 A1.3,1.3 0 0,1 323.7,179.9Z" fill="#ffffff" opacity="0.55"/>
<text x="328.8" y="180.6" font-size="5.8" text-anchor="start" fill="#222" stroke="#222" stroke-width="0.2">CrTe</text>
<polygon points="321.1,185 325.01,182.93 325.01,187.07" fill="#1a1aff"/>
<text x="328.8" y="187" font-size="5.8" text-anchor="start" fill="#222" stroke="#222" stroke-width="0.2">Ni</text>
<polygon points="323.4,194.1 325.47,190.19 321.33,190.19" fill="#1a1aff"/>
<text x="328.8" y="193.8" font-size="5.8" text-anchor="start" fill="#222" stroke="#222" stroke-width="0.2">Co</text>
<polygon points="321.1,198.8 325.01,196.73 325.01,200.87" fill="#1a1aff"/>
<text x="328.8" y="200.8" font-size="5.8" text-anchor="start" fill="#222" stroke="#222" stroke-width="0.2">MnSi</text>
<polygon points="323.4,208.7 325.47,204.79 321.33,204.79" fill="#1a1aff"/>
<text x="328.8" y="208.4" font-size="5.8" text-anchor="start" fill="#222" stroke="#222" stroke-width="0.2">Sc<tspan font-size="3.6" dy="1">3</tspan><tspan dy="-1">In</tspan></text>
<polygon points="360.5,132.4 361.12,134.05 362.88,134.13 361.5,135.22 361.97,136.92 360.5,135.95 359.03,136.92 359.5,135.22 358.12,134.13 359.88,134.05" fill="#ff1010" stroke="#ff1010" stroke-width="0.7"/>
<text x="366" y="136.9" font-size="5.6" text-anchor="start" fill="#222" stroke="#222" stroke-width="0.2">Fe<tspan font-size="3.3" dy="1">3</tspan><tspan dy="-1">GeTe</tspan><tspan font-size="3.3" dy="1">2</tspan><tspan dy="-1">-In</tspan></text>
<polygon points="360.5,140.1 361.12,141.75 362.88,141.83 361.5,142.92 361.97,144.62 360.5,143.65 359.03,144.62 359.5,142.92 358.12,141.83 359.88,141.75" fill="none" stroke="#ff1010" stroke-width="0.7"/>
<text x="366" y="144.6" font-size="5.6" text-anchor="start" fill="#222" stroke="#222" stroke-width="0.2">Fe<tspan font-size="3.3" dy="1">3</tspan><tspan dy="-1">GeTe</tspan><tspan font-size="3.3" dy="1">2</tspan><tspan dy="-1">-Out</tspan></text>
<polygon points="360.5,147.5 361.12,149.15 362.88,149.23 361.5,150.32 361.97,152.02 360.5,151.05 359.03,152.02 359.5,150.32 358.12,149.23 359.88,149.15" fill="none" stroke="#f08a24" stroke-width="0.7"/>
<text x="366" y="152" font-size="5.6" text-anchor="start" fill="#222" stroke="#222" stroke-width="0.2">Fe<tspan font-size="3.3" dy="1">5</tspan><tspan dy="-1">GeTe</tspan><tspan font-size="3.3" dy="1">2</tspan></text>
<circle cx="360.5" cy="157.6" r="1.95" fill="#1a8a1a"/>
<path d="M360.8,156.3 A1.3,1.3 0 0,1 360.8,158.9Z" fill="#ffffff" opacity="0.55"/>
<text x="366" y="159.6" font-size="5.6" text-anchor="start" fill="#222" stroke="#222" stroke-width="0.2">EuO</text>
<circle cx="360.5" cy="165.5" r="1.95" fill="#1a8a1a"/>
<path d="M360.8,164.2 A1.3,1.3 0 0,1 360.8,166.8Z" fill="#ffffff" opacity="0.55"/>
<text x="366" y="167.5" font-size="5.6" text-anchor="start" fill="#222" stroke="#222" stroke-width="0.2">MnSb</text>
<path d="M360.5,169.8 L362.8,172.1 L360.5,174.4 L358.2,172.1Z" fill="#1a8a1a"/>
<text x="366" y="174.1" font-size="5.6" text-anchor="start" fill="#222" stroke="#222" stroke-width="0.2">FeB</text>
<polygon points="362.8,178.6 358.89,176.53 358.89,180.67" fill="#1a1aff"/>
<text x="366" y="180.6" font-size="5.6" text-anchor="start" fill="#222" stroke="#222" stroke-width="0.2">CoB</text>
<path d="M360.5,182.7 L362.8,185 L360.5,187.3 L358.2,185Z" fill="#1a1aff"/>
<text x="366" y="187" font-size="5.6" text-anchor="start" fill="#222" stroke="#222" stroke-width="0.2">Fe</text>
<path d="M360.5,189.5 L362.8,191.8 L360.5,194.1 L358.2,191.8Z" fill="#1a1aff"/>
<text x="366" y="193.8" font-size="5.6" text-anchor="start" fill="#222" stroke="#222" stroke-width="0.2">ZrZn<tspan font-size="3.3" dy="1"> 2</tspan></text>
<polygon points="360.5,196.5 362.57,200.41 358.43,200.41" fill="#1a1aff"/>
<text x="366" y="200.8" font-size="5.6" text-anchor="start" fill="#222" stroke="#222" stroke-width="0.2">NiAl<tspan font-size="3.3" dy="1">3</tspan></text>
<polygon points="362.8,206.4 358.89,204.33 358.89,208.47" fill="#1a1aff"/>
<text x="366" y="208.4" font-size="5.6" text-anchor="start" fill="#222" stroke="#222" stroke-width="0.2">Au<tspan font-size="3.3" dy="1">4</tspan><tspan dy="-1">V</tspan></text>
</svg>
</body></html>
